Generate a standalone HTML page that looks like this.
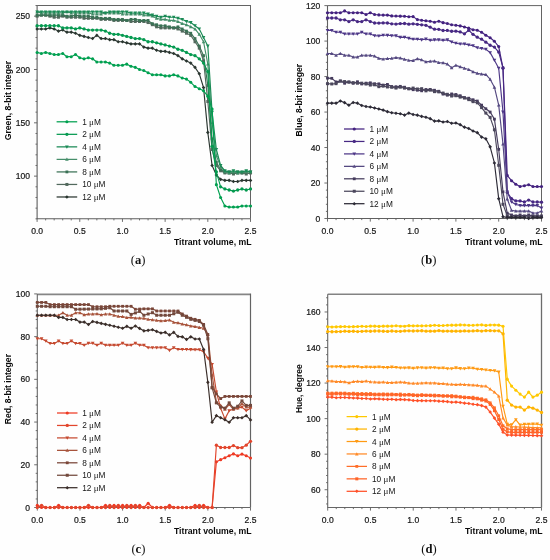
<!DOCTYPE html>
<html lang="en"><head><meta charset="utf-8"><title>Titration curves: Green, Blue, Red, Hue vs titrant volume</title>
<style>
html,body{margin:0;padding:0;background:#fefefe;}
body{width:550px;height:560px;overflow:hidden;}
svg{display:block;}
</style></head><body>
<svg width="550" height="560" viewBox="0 0 550 560">
<rect width="550" height="560" fill="#fefefe"/>
<g>
<path d="M37.1 5.5H250.5" fill="none" stroke="#636363" stroke-width="1.0"/>
<path d="M250.5 5.00V218.8" fill="none" stroke="#636363" stroke-width="1.0"/>
<path d="M37.1 5.5V218.8H250.5" fill="none" stroke="#5f5f5f" stroke-width="1.1"/>
<path d="M37.10 218.8v3.1M45.64 218.8v1.6M54.17 218.8v1.6M62.71 218.8v1.6M71.24 218.8v1.6M79.78 218.8v3.1M88.32 218.8v1.6M96.85 218.8v1.6M105.39 218.8v1.6M113.92 218.8v1.6M122.46 218.8v3.1M131.00 218.8v1.6M139.53 218.8v1.6M148.07 218.8v1.6M156.60 218.8v1.6M165.14 218.8v3.1M173.68 218.8v1.6M182.21 218.8v1.6M190.75 218.8v1.6M199.28 218.8v1.6M207.82 218.8v3.1M216.36 218.8v1.6M224.89 218.8v1.6M233.43 218.8v1.6M241.96 218.8v1.6M250.50 218.8v3.1M37.1 218.80h-1.6M37.1 208.14h-1.6M37.1 197.47h-1.6M37.1 186.81h-1.6M37.1 176.14h-3.1M37.1 165.48h-1.6M37.1 154.81h-1.6M37.1 144.15h-1.6M37.1 133.48h-1.6M37.1 122.82h-3.1M37.1 112.15h-1.6M37.1 101.49h-1.6M37.1 90.82h-1.6M37.1 80.16h-1.6M37.1 69.49h-3.1M37.1 58.83h-1.6M37.1 48.16h-1.6M37.1 37.50h-1.6M37.1 26.83h-1.6M37.1 16.17h-3.1M37.1 5.50h-1.6" fill="none" stroke="#5f5f5f" stroke-width="0.9"/>
<g font-family="Liberation Sans, Arial, sans-serif" font-size="8.55" fill="#151515" stroke="#151515" stroke-width="0.2">
<text x="37.10" y="234.40" text-anchor="middle">0.0</text>
<text x="79.78" y="234.40" text-anchor="middle">0.5</text>
<text x="122.46" y="234.40" text-anchor="middle">1.0</text>
<text x="165.14" y="234.40" text-anchor="middle">1.5</text>
<text x="207.82" y="234.40" text-anchor="middle">2.0</text>
<text x="250.50" y="234.40" text-anchor="middle">2.5</text>
<text x="29.90" y="179.24" text-anchor="end">100</text>
<text x="29.90" y="125.92" text-anchor="end">150</text>
<text x="29.90" y="72.59" text-anchor="end">200</text>
<text x="29.90" y="19.27" text-anchor="end">250</text>
</g>
<text x="251.50" y="245.00" text-anchor="end" font-family="Liberation Sans, Arial, sans-serif" font-weight="bold" font-size="8.7" fill="#0a0a0a">Titrant volume, mL</text>
<text transform="translate(11.4 100.6) rotate(-90)" text-anchor="middle" font-family="Liberation Sans, Arial, sans-serif" font-weight="bold" font-size="8.68" fill="#0a0a0a">Green, 8-bit integer</text>
<path d="M37.10 28.96L41.37 28.96L45.64 28.96L49.90 27.90L54.17 28.96L58.44 31.10L62.71 30.03L66.98 32.16L71.24 32.16L75.51 33.23L79.78 35.36L84.05 36.43L88.32 37.50L92.58 38.56L96.85 35.36L101.12 38.56L105.39 38.56L109.66 39.63L113.92 39.63L118.19 41.76L122.46 41.76L126.73 42.83L131.00 43.89L135.26 43.89L139.53 43.89L143.80 47.09L148.07 48.16L152.34 48.16L156.60 50.29L160.87 51.36L165.14 51.36L169.41 52.43L173.68 53.49L177.94 55.63L182.21 58.83L186.48 60.96L190.75 63.09L195.02 67.36L199.28 73.76L203.55 87.62L207.82 132.41L212.09 165.48L216.36 175.07L220.62 179.34L224.89 180.41L229.16 180.41L233.43 181.47L237.70 181.47L241.96 180.41L246.23 180.41L250.50 180.41" fill="none" stroke="#2a3630" stroke-width="1.15" stroke-linejoin="round"/>
<g><path d="M35.29 28.96L37.10 27.15L38.91 28.96L37.10 30.78Z" fill="#2a3630"/><path d="M39.56 28.96L41.37 27.15L43.18 28.96L41.37 30.78Z" fill="#2a3630"/><path d="M43.82 28.96L45.64 27.15L47.45 28.96L45.64 30.78Z" fill="#2a3630"/><path d="M48.09 27.90L49.90 26.08L51.72 27.90L49.90 29.71Z" fill="#2a3630"/><path d="M52.36 28.96L54.17 27.15L55.98 28.96L54.17 30.78Z" fill="#2a3630"/><path d="M56.63 31.10L58.44 29.28L60.25 31.10L58.44 32.91Z" fill="#2a3630"/><path d="M60.90 30.03L62.71 28.22L64.52 30.03L62.71 31.84Z" fill="#2a3630"/><path d="M65.16 32.16L66.98 30.35L68.79 32.16L66.98 33.98Z" fill="#2a3630"/><path d="M69.43 32.16L71.24 30.35L73.06 32.16L71.24 33.98Z" fill="#2a3630"/><path d="M73.70 33.23L75.51 31.42L77.32 33.23L75.51 35.04Z" fill="#2a3630"/><path d="M77.97 35.36L79.78 33.55L81.59 35.36L79.78 37.17Z" fill="#2a3630"/><path d="M82.24 36.43L84.05 34.62L85.86 36.43L84.05 38.24Z" fill="#2a3630"/><path d="M86.50 37.50L88.32 35.68L90.13 37.50L88.32 39.31Z" fill="#2a3630"/><path d="M90.77 38.56L92.58 36.75L94.40 38.56L92.58 40.37Z" fill="#2a3630"/><path d="M95.04 35.36L96.85 33.55L98.66 35.36L96.85 37.17Z" fill="#2a3630"/><path d="M99.31 38.56L101.12 36.75L102.93 38.56L101.12 40.37Z" fill="#2a3630"/><path d="M103.58 38.56L105.39 36.75L107.20 38.56L105.39 40.37Z" fill="#2a3630"/><path d="M107.84 39.63L109.66 37.82L111.47 39.63L109.66 41.44Z" fill="#2a3630"/><path d="M112.11 39.63L113.92 37.82L115.74 39.63L113.92 41.44Z" fill="#2a3630"/><path d="M116.38 41.76L118.19 39.95L120.00 41.76L118.19 43.57Z" fill="#2a3630"/><path d="M120.65 41.76L122.46 39.95L124.27 41.76L122.46 43.57Z" fill="#2a3630"/><path d="M124.92 42.83L126.73 41.02L128.54 42.83L126.73 44.64Z" fill="#2a3630"/><path d="M129.18 43.89L131.00 42.08L132.81 43.89L131.00 45.71Z" fill="#2a3630"/><path d="M133.45 43.89L135.26 42.08L137.08 43.89L135.26 45.71Z" fill="#2a3630"/><path d="M137.72 43.89L139.53 42.08L141.34 43.89L139.53 45.71Z" fill="#2a3630"/><path d="M141.99 47.09L143.80 45.28L145.61 47.09L143.80 48.91Z" fill="#2a3630"/><path d="M146.26 48.16L148.07 46.35L149.88 48.16L148.07 49.97Z" fill="#2a3630"/><path d="M150.52 48.16L152.34 46.35L154.15 48.16L152.34 49.97Z" fill="#2a3630"/><path d="M154.79 50.29L156.60 48.48L158.42 50.29L156.60 52.11Z" fill="#2a3630"/><path d="M159.06 51.36L160.87 49.55L162.68 51.36L160.87 53.17Z" fill="#2a3630"/><path d="M163.33 51.36L165.14 49.55L166.95 51.36L165.14 53.17Z" fill="#2a3630"/><path d="M167.60 52.43L169.41 50.61L171.22 52.43L169.41 54.24Z" fill="#2a3630"/><path d="M171.86 53.49L173.68 51.68L175.49 53.49L173.68 55.31Z" fill="#2a3630"/><path d="M176.13 55.63L177.94 53.81L179.76 55.63L177.94 57.44Z" fill="#2a3630"/><path d="M180.40 58.83L182.21 57.01L184.02 58.83L182.21 60.64Z" fill="#2a3630"/><path d="M184.67 60.96L186.48 59.15L188.29 60.96L186.48 62.77Z" fill="#2a3630"/><path d="M188.94 63.09L190.75 61.28L192.56 63.09L190.75 64.90Z" fill="#2a3630"/><path d="M193.20 67.36L195.02 65.54L196.83 67.36L195.02 69.17Z" fill="#2a3630"/><path d="M197.47 73.76L199.28 71.94L201.10 73.76L199.28 75.57Z" fill="#2a3630"/><path d="M201.74 87.62L203.55 85.81L205.36 87.62L203.55 89.43Z" fill="#2a3630"/><path d="M206.01 132.41L207.82 130.60L209.63 132.41L207.82 134.23Z" fill="#2a3630"/><path d="M210.28 165.48L212.09 163.66L213.90 165.48L212.09 167.29Z" fill="#2a3630"/><path d="M214.54 175.07L216.36 173.26L218.17 175.07L216.36 176.89Z" fill="#2a3630"/><path d="M218.81 179.34L220.62 177.53L222.44 179.34L220.62 181.15Z" fill="#2a3630"/><path d="M223.08 180.41L224.89 178.59L226.70 180.41L224.89 182.22Z" fill="#2a3630"/><path d="M227.35 180.41L229.16 178.59L230.97 180.41L229.16 182.22Z" fill="#2a3630"/><path d="M231.62 181.47L233.43 179.66L235.24 181.47L233.43 183.29Z" fill="#2a3630"/><path d="M235.88 181.47L237.70 179.66L239.51 181.47L237.70 183.29Z" fill="#2a3630"/><path d="M240.15 180.41L241.96 178.59L243.78 180.41L241.96 182.22Z" fill="#2a3630"/><path d="M244.42 180.41L246.23 178.59L248.04 180.41L246.23 182.22Z" fill="#2a3630"/><path d="M248.69 180.41L250.50 178.59L252.31 180.41L250.50 182.22Z" fill="#2a3630"/></g>
<path d="M37.10 16.17L41.37 15.10L45.64 15.10L49.90 16.17L54.17 17.23L58.44 17.23L62.71 16.17L66.98 17.23L71.24 17.23L75.51 17.23L79.78 17.23L84.05 18.30L88.32 18.30L92.58 18.30L96.85 18.30L101.12 19.36L105.39 19.36L109.66 19.36L113.92 20.43L118.19 20.43L122.46 20.43L126.73 20.43L131.00 21.50L135.26 21.50L139.53 21.50L143.80 21.50L148.07 22.56L152.34 24.70L156.60 26.83L160.87 27.90L165.14 27.90L169.41 27.90L173.68 27.90L177.94 28.96L182.21 31.10L186.48 33.23L190.75 35.36L195.02 41.76L199.28 48.16L203.55 60.96L207.82 101.49L212.09 149.48L216.36 165.48L220.62 170.81L224.89 172.94L229.16 172.94L233.43 174.01L237.70 172.94L241.96 172.94L246.23 174.01L250.50 172.94" fill="none" stroke="#52695d" stroke-width="1.15" stroke-linejoin="round"/>
<g><rect x="35.60" y="14.67" width="3.00" height="3.00" fill="#52695d"/><rect x="39.87" y="13.60" width="3.00" height="3.00" fill="#52695d"/><rect x="44.14" y="13.60" width="3.00" height="3.00" fill="#52695d"/><rect x="48.40" y="14.67" width="3.00" height="3.00" fill="#52695d"/><rect x="52.67" y="15.73" width="3.00" height="3.00" fill="#52695d"/><rect x="56.94" y="15.73" width="3.00" height="3.00" fill="#52695d"/><rect x="61.21" y="14.67" width="3.00" height="3.00" fill="#52695d"/><rect x="65.48" y="15.73" width="3.00" height="3.00" fill="#52695d"/><rect x="69.74" y="15.73" width="3.00" height="3.00" fill="#52695d"/><rect x="74.01" y="15.73" width="3.00" height="3.00" fill="#52695d"/><rect x="78.28" y="15.73" width="3.00" height="3.00" fill="#52695d"/><rect x="82.55" y="16.80" width="3.00" height="3.00" fill="#52695d"/><rect x="86.82" y="16.80" width="3.00" height="3.00" fill="#52695d"/><rect x="91.08" y="16.80" width="3.00" height="3.00" fill="#52695d"/><rect x="95.35" y="16.80" width="3.00" height="3.00" fill="#52695d"/><rect x="99.62" y="17.86" width="3.00" height="3.00" fill="#52695d"/><rect x="103.89" y="17.86" width="3.00" height="3.00" fill="#52695d"/><rect x="108.16" y="17.86" width="3.00" height="3.00" fill="#52695d"/><rect x="112.42" y="18.93" width="3.00" height="3.00" fill="#52695d"/><rect x="116.69" y="18.93" width="3.00" height="3.00" fill="#52695d"/><rect x="120.96" y="18.93" width="3.00" height="3.00" fill="#52695d"/><rect x="125.23" y="18.93" width="3.00" height="3.00" fill="#52695d"/><rect x="129.50" y="20.00" width="3.00" height="3.00" fill="#52695d"/><rect x="133.76" y="20.00" width="3.00" height="3.00" fill="#52695d"/><rect x="138.03" y="20.00" width="3.00" height="3.00" fill="#52695d"/><rect x="142.30" y="20.00" width="3.00" height="3.00" fill="#52695d"/><rect x="146.57" y="21.06" width="3.00" height="3.00" fill="#52695d"/><rect x="150.84" y="23.20" width="3.00" height="3.00" fill="#52695d"/><rect x="155.10" y="25.33" width="3.00" height="3.00" fill="#52695d"/><rect x="159.37" y="26.40" width="3.00" height="3.00" fill="#52695d"/><rect x="163.64" y="26.40" width="3.00" height="3.00" fill="#52695d"/><rect x="167.91" y="26.40" width="3.00" height="3.00" fill="#52695d"/><rect x="172.18" y="26.40" width="3.00" height="3.00" fill="#52695d"/><rect x="176.44" y="27.46" width="3.00" height="3.00" fill="#52695d"/><rect x="180.71" y="29.60" width="3.00" height="3.00" fill="#52695d"/><rect x="184.98" y="31.73" width="3.00" height="3.00" fill="#52695d"/><rect x="189.25" y="33.86" width="3.00" height="3.00" fill="#52695d"/><rect x="193.52" y="40.26" width="3.00" height="3.00" fill="#52695d"/><rect x="197.78" y="46.66" width="3.00" height="3.00" fill="#52695d"/><rect x="202.05" y="59.46" width="3.00" height="3.00" fill="#52695d"/><rect x="206.32" y="99.99" width="3.00" height="3.00" fill="#52695d"/><rect x="210.59" y="147.98" width="3.00" height="3.00" fill="#52695d"/><rect x="214.86" y="163.98" width="3.00" height="3.00" fill="#52695d"/><rect x="219.12" y="169.31" width="3.00" height="3.00" fill="#52695d"/><rect x="223.39" y="171.44" width="3.00" height="3.00" fill="#52695d"/><rect x="227.66" y="171.44" width="3.00" height="3.00" fill="#52695d"/><rect x="231.93" y="172.51" width="3.00" height="3.00" fill="#52695d"/><rect x="236.20" y="171.44" width="3.00" height="3.00" fill="#52695d"/><rect x="240.46" y="171.44" width="3.00" height="3.00" fill="#52695d"/><rect x="244.73" y="172.51" width="3.00" height="3.00" fill="#52695d"/><rect x="249.00" y="171.44" width="3.00" height="3.00" fill="#52695d"/></g>
<path d="M37.10 15.10L41.37 15.10L45.64 15.10L49.90 15.10L54.17 15.10L58.44 15.10L62.71 15.10L66.98 16.17L71.24 16.17L75.51 15.10L79.78 16.17L84.05 16.17L88.32 16.17L92.58 17.23L96.85 17.23L101.12 18.30L105.39 18.30L109.66 18.30L113.92 19.36L118.19 19.36L122.46 19.36L126.73 20.43L131.00 19.36L135.26 19.36L139.53 20.43L143.80 20.43L148.07 20.43L152.34 23.63L156.60 24.70L160.87 25.76L165.14 25.76L169.41 26.83L173.68 27.90L177.94 26.83L182.21 28.96L186.48 31.10L190.75 33.23L195.02 38.56L199.28 46.03L203.55 55.63L207.82 85.49L212.09 138.81L216.36 162.28L220.62 169.74L224.89 171.87L229.16 171.87L233.43 172.94L237.70 171.87L241.96 172.94L246.23 171.87L250.50 171.87" fill="none" stroke="#3a7155" stroke-width="1.15" stroke-linejoin="round"/>
<g><rect x="35.70" y="13.70" width="2.80" height="2.80" fill="#3a7155"/><rect x="39.97" y="13.70" width="2.80" height="2.80" fill="#3a7155"/><rect x="44.24" y="13.70" width="2.80" height="2.80" fill="#3a7155"/><rect x="48.50" y="13.70" width="2.80" height="2.80" fill="#3a7155"/><rect x="52.77" y="13.70" width="2.80" height="2.80" fill="#3a7155"/><rect x="57.04" y="13.70" width="2.80" height="2.80" fill="#3a7155"/><rect x="61.31" y="13.70" width="2.80" height="2.80" fill="#3a7155"/><rect x="65.58" y="14.77" width="2.80" height="2.80" fill="#3a7155"/><rect x="69.84" y="14.77" width="2.80" height="2.80" fill="#3a7155"/><rect x="74.11" y="13.70" width="2.80" height="2.80" fill="#3a7155"/><rect x="78.38" y="14.77" width="2.80" height="2.80" fill="#3a7155"/><rect x="82.65" y="14.77" width="2.80" height="2.80" fill="#3a7155"/><rect x="86.92" y="14.77" width="2.80" height="2.80" fill="#3a7155"/><rect x="91.18" y="15.83" width="2.80" height="2.80" fill="#3a7155"/><rect x="95.45" y="15.83" width="2.80" height="2.80" fill="#3a7155"/><rect x="99.72" y="16.90" width="2.80" height="2.80" fill="#3a7155"/><rect x="103.99" y="16.90" width="2.80" height="2.80" fill="#3a7155"/><rect x="108.26" y="16.90" width="2.80" height="2.80" fill="#3a7155"/><rect x="112.52" y="17.96" width="2.80" height="2.80" fill="#3a7155"/><rect x="116.79" y="17.96" width="2.80" height="2.80" fill="#3a7155"/><rect x="121.06" y="17.96" width="2.80" height="2.80" fill="#3a7155"/><rect x="125.33" y="19.03" width="2.80" height="2.80" fill="#3a7155"/><rect x="129.60" y="17.96" width="2.80" height="2.80" fill="#3a7155"/><rect x="133.86" y="17.96" width="2.80" height="2.80" fill="#3a7155"/><rect x="138.13" y="19.03" width="2.80" height="2.80" fill="#3a7155"/><rect x="142.40" y="19.03" width="2.80" height="2.80" fill="#3a7155"/><rect x="146.67" y="19.03" width="2.80" height="2.80" fill="#3a7155"/><rect x="150.94" y="22.23" width="2.80" height="2.80" fill="#3a7155"/><rect x="155.20" y="23.30" width="2.80" height="2.80" fill="#3a7155"/><rect x="159.47" y="24.36" width="2.80" height="2.80" fill="#3a7155"/><rect x="163.74" y="24.36" width="2.80" height="2.80" fill="#3a7155"/><rect x="168.01" y="25.43" width="2.80" height="2.80" fill="#3a7155"/><rect x="172.28" y="26.50" width="2.80" height="2.80" fill="#3a7155"/><rect x="176.54" y="25.43" width="2.80" height="2.80" fill="#3a7155"/><rect x="180.81" y="27.56" width="2.80" height="2.80" fill="#3a7155"/><rect x="185.08" y="29.70" width="2.80" height="2.80" fill="#3a7155"/><rect x="189.35" y="31.83" width="2.80" height="2.80" fill="#3a7155"/><rect x="193.62" y="37.16" width="2.80" height="2.80" fill="#3a7155"/><rect x="197.88" y="44.63" width="2.80" height="2.80" fill="#3a7155"/><rect x="202.15" y="54.23" width="2.80" height="2.80" fill="#3a7155"/><rect x="206.42" y="84.09" width="2.80" height="2.80" fill="#3a7155"/><rect x="210.69" y="137.41" width="2.80" height="2.80" fill="#3a7155"/><rect x="214.96" y="160.88" width="2.80" height="2.80" fill="#3a7155"/><rect x="219.22" y="168.34" width="2.80" height="2.80" fill="#3a7155"/><rect x="223.49" y="170.47" width="2.80" height="2.80" fill="#3a7155"/><rect x="227.76" y="170.47" width="2.80" height="2.80" fill="#3a7155"/><rect x="232.03" y="171.54" width="2.80" height="2.80" fill="#3a7155"/><rect x="236.30" y="170.47" width="2.80" height="2.80" fill="#3a7155"/><rect x="240.56" y="171.54" width="2.80" height="2.80" fill="#3a7155"/><rect x="244.83" y="170.47" width="2.80" height="2.80" fill="#3a7155"/><rect x="249.10" y="170.47" width="2.80" height="2.80" fill="#3a7155"/></g>
<path d="M37.10 11.90L41.37 12.97L45.64 12.97L49.90 12.97L54.17 12.97L58.44 12.97L62.71 12.97L66.98 11.90L71.24 12.97L75.51 12.97L79.78 12.97L84.05 12.97L88.32 12.97L92.58 14.03L96.85 14.03L101.12 14.03L105.39 12.97L109.66 12.97L113.92 12.97L118.19 12.97L122.46 14.03L126.73 14.03L131.00 14.03L135.26 14.03L139.53 14.03L143.80 15.10L148.07 15.10L152.34 16.17L156.60 18.30L160.87 19.36L165.14 19.36L169.41 20.43L173.68 20.43L177.94 21.50L182.21 23.63L186.48 24.70L190.75 26.83L195.02 28.96L199.28 34.30L203.55 41.76L207.82 64.16L212.09 122.82L216.36 155.88L220.62 166.54L224.89 171.87L229.16 172.94L233.43 171.87L237.70 172.94L241.96 171.87L246.23 171.87L250.50 171.87" fill="none" stroke="#458e6a" stroke-width="1.15" stroke-linejoin="round"/>
<g><path d="M35.30 13.34L38.90 13.34L37.10 10.10Z" fill="#458e6a"/><path d="M39.57 14.41L43.17 14.41L41.37 11.17Z" fill="#458e6a"/><path d="M43.84 14.41L47.44 14.41L45.64 11.17Z" fill="#458e6a"/><path d="M48.10 14.41L51.70 14.41L49.90 11.17Z" fill="#458e6a"/><path d="M52.37 14.41L55.97 14.41L54.17 11.17Z" fill="#458e6a"/><path d="M56.64 14.41L60.24 14.41L58.44 11.17Z" fill="#458e6a"/><path d="M60.91 14.41L64.51 14.41L62.71 11.17Z" fill="#458e6a"/><path d="M65.18 13.34L68.78 13.34L66.98 10.10Z" fill="#458e6a"/><path d="M69.44 14.41L73.04 14.41L71.24 11.17Z" fill="#458e6a"/><path d="M73.71 14.41L77.31 14.41L75.51 11.17Z" fill="#458e6a"/><path d="M77.98 14.41L81.58 14.41L79.78 11.17Z" fill="#458e6a"/><path d="M82.25 14.41L85.85 14.41L84.05 11.17Z" fill="#458e6a"/><path d="M86.52 14.41L90.12 14.41L88.32 11.17Z" fill="#458e6a"/><path d="M90.78 15.47L94.38 15.47L92.58 12.23Z" fill="#458e6a"/><path d="M95.05 15.47L98.65 15.47L96.85 12.23Z" fill="#458e6a"/><path d="M99.32 15.47L102.92 15.47L101.12 12.23Z" fill="#458e6a"/><path d="M103.59 14.41L107.19 14.41L105.39 11.17Z" fill="#458e6a"/><path d="M107.86 14.41L111.46 14.41L109.66 11.17Z" fill="#458e6a"/><path d="M112.12 14.41L115.72 14.41L113.92 11.17Z" fill="#458e6a"/><path d="M116.39 14.41L119.99 14.41L118.19 11.17Z" fill="#458e6a"/><path d="M120.66 15.47L124.26 15.47L122.46 12.23Z" fill="#458e6a"/><path d="M124.93 15.47L128.53 15.47L126.73 12.23Z" fill="#458e6a"/><path d="M129.20 15.47L132.80 15.47L131.00 12.23Z" fill="#458e6a"/><path d="M133.46 15.47L137.06 15.47L135.26 12.23Z" fill="#458e6a"/><path d="M137.73 15.47L141.33 15.47L139.53 12.23Z" fill="#458e6a"/><path d="M142.00 16.54L145.60 16.54L143.80 13.30Z" fill="#458e6a"/><path d="M146.27 16.54L149.87 16.54L148.07 13.30Z" fill="#458e6a"/><path d="M150.54 17.61L154.14 17.61L152.34 14.37Z" fill="#458e6a"/><path d="M154.80 19.74L158.40 19.74L156.60 16.50Z" fill="#458e6a"/><path d="M159.07 20.80L162.67 20.80L160.87 17.56Z" fill="#458e6a"/><path d="M163.34 20.80L166.94 20.80L165.14 17.56Z" fill="#458e6a"/><path d="M167.61 21.87L171.21 21.87L169.41 18.63Z" fill="#458e6a"/><path d="M171.88 21.87L175.48 21.87L173.68 18.63Z" fill="#458e6a"/><path d="M176.14 22.94L179.74 22.94L177.94 19.70Z" fill="#458e6a"/><path d="M180.41 25.07L184.01 25.07L182.21 21.83Z" fill="#458e6a"/><path d="M184.68 26.14L188.28 26.14L186.48 22.90Z" fill="#458e6a"/><path d="M188.95 28.27L192.55 28.27L190.75 25.03Z" fill="#458e6a"/><path d="M193.22 30.40L196.82 30.40L195.02 27.16Z" fill="#458e6a"/><path d="M197.48 35.74L201.08 35.74L199.28 32.50Z" fill="#458e6a"/><path d="M201.75 43.20L205.35 43.20L203.55 39.96Z" fill="#458e6a"/><path d="M206.02 65.60L209.62 65.60L207.82 62.36Z" fill="#458e6a"/><path d="M210.29 124.26L213.89 124.26L212.09 121.02Z" fill="#458e6a"/><path d="M214.56 157.32L218.16 157.32L216.36 154.08Z" fill="#458e6a"/><path d="M218.82 167.98L222.42 167.98L220.62 164.74Z" fill="#458e6a"/><path d="M223.09 173.31L226.69 173.31L224.89 170.07Z" fill="#458e6a"/><path d="M227.36 174.38L230.96 174.38L229.16 171.14Z" fill="#458e6a"/><path d="M231.63 173.31L235.23 173.31L233.43 170.07Z" fill="#458e6a"/><path d="M235.90 174.38L239.50 174.38L237.70 171.14Z" fill="#458e6a"/><path d="M240.16 173.31L243.76 173.31L241.96 170.07Z" fill="#458e6a"/><path d="M244.43 173.31L248.03 173.31L246.23 170.07Z" fill="#458e6a"/><path d="M248.70 173.31L252.30 173.31L250.50 170.07Z" fill="#458e6a"/></g>
<path d="M37.10 11.90L41.37 11.90L45.64 11.90L49.90 11.90L54.17 11.90L58.44 11.90L62.71 11.90L66.98 11.90L71.24 11.90L75.51 11.90L79.78 11.90L84.05 11.90L88.32 11.90L92.58 11.90L96.85 11.90L101.12 11.90L105.39 12.97L109.66 11.90L113.92 11.90L118.19 11.90L122.46 11.90L126.73 11.90L131.00 12.97L135.26 12.97L139.53 12.97L143.80 12.97L148.07 14.03L152.34 15.10L156.60 16.17L160.87 17.23L165.14 16.17L169.41 17.23L173.68 17.23L177.94 18.30L182.21 19.36L186.48 21.50L190.75 22.56L195.02 25.76L199.28 28.96L203.55 37.50L207.82 46.03L212.09 112.15L216.36 149.48L220.62 165.48L224.89 170.81L229.16 171.87L233.43 170.81L237.70 171.87L241.96 171.87L246.23 170.81L250.50 171.87" fill="none" stroke="#1a8a55" stroke-width="1.15" stroke-linejoin="round"/>
<g><path d="M35.25 10.42L38.95 10.42L37.10 13.75Z" fill="#1a8a55"/><path d="M39.52 10.42L43.22 10.42L41.37 13.75Z" fill="#1a8a55"/><path d="M43.79 10.42L47.49 10.42L45.64 13.75Z" fill="#1a8a55"/><path d="M48.05 10.42L51.75 10.42L49.90 13.75Z" fill="#1a8a55"/><path d="M52.32 10.42L56.02 10.42L54.17 13.75Z" fill="#1a8a55"/><path d="M56.59 10.42L60.29 10.42L58.44 13.75Z" fill="#1a8a55"/><path d="M60.86 10.42L64.56 10.42L62.71 13.75Z" fill="#1a8a55"/><path d="M65.13 10.42L68.83 10.42L66.98 13.75Z" fill="#1a8a55"/><path d="M69.39 10.42L73.09 10.42L71.24 13.75Z" fill="#1a8a55"/><path d="M73.66 10.42L77.36 10.42L75.51 13.75Z" fill="#1a8a55"/><path d="M77.93 10.42L81.63 10.42L79.78 13.75Z" fill="#1a8a55"/><path d="M82.20 10.42L85.90 10.42L84.05 13.75Z" fill="#1a8a55"/><path d="M86.47 10.42L90.17 10.42L88.32 13.75Z" fill="#1a8a55"/><path d="M90.73 10.42L94.43 10.42L92.58 13.75Z" fill="#1a8a55"/><path d="M95.00 10.42L98.70 10.42L96.85 13.75Z" fill="#1a8a55"/><path d="M99.27 10.42L102.97 10.42L101.12 13.75Z" fill="#1a8a55"/><path d="M103.54 11.49L107.24 11.49L105.39 14.82Z" fill="#1a8a55"/><path d="M107.81 10.42L111.51 10.42L109.66 13.75Z" fill="#1a8a55"/><path d="M112.07 10.42L115.77 10.42L113.92 13.75Z" fill="#1a8a55"/><path d="M116.34 10.42L120.04 10.42L118.19 13.75Z" fill="#1a8a55"/><path d="M120.61 10.42L124.31 10.42L122.46 13.75Z" fill="#1a8a55"/><path d="M124.88 10.42L128.58 10.42L126.73 13.75Z" fill="#1a8a55"/><path d="M129.15 11.49L132.85 11.49L131.00 14.82Z" fill="#1a8a55"/><path d="M133.41 11.49L137.11 11.49L135.26 14.82Z" fill="#1a8a55"/><path d="M137.68 11.49L141.38 11.49L139.53 14.82Z" fill="#1a8a55"/><path d="M141.95 11.49L145.65 11.49L143.80 14.82Z" fill="#1a8a55"/><path d="M146.22 12.55L149.92 12.55L148.07 15.88Z" fill="#1a8a55"/><path d="M150.49 13.62L154.19 13.62L152.34 16.95Z" fill="#1a8a55"/><path d="M154.75 14.69L158.45 14.69L156.60 18.02Z" fill="#1a8a55"/><path d="M159.02 15.75L162.72 15.75L160.87 19.08Z" fill="#1a8a55"/><path d="M163.29 14.69L166.99 14.69L165.14 18.02Z" fill="#1a8a55"/><path d="M167.56 15.75L171.26 15.75L169.41 19.08Z" fill="#1a8a55"/><path d="M171.83 15.75L175.53 15.75L173.68 19.08Z" fill="#1a8a55"/><path d="M176.09 16.82L179.79 16.82L177.94 20.15Z" fill="#1a8a55"/><path d="M180.36 17.88L184.06 17.88L182.21 21.21Z" fill="#1a8a55"/><path d="M184.63 20.02L188.33 20.02L186.48 23.35Z" fill="#1a8a55"/><path d="M188.90 21.08L192.60 21.08L190.75 24.41Z" fill="#1a8a55"/><path d="M193.17 24.28L196.87 24.28L195.02 27.61Z" fill="#1a8a55"/><path d="M197.43 27.48L201.13 27.48L199.28 30.81Z" fill="#1a8a55"/><path d="M201.70 36.02L205.40 36.02L203.55 39.35Z" fill="#1a8a55"/><path d="M205.97 44.55L209.67 44.55L207.82 47.88Z" fill="#1a8a55"/><path d="M210.24 110.67L213.94 110.67L212.09 114.00Z" fill="#1a8a55"/><path d="M214.51 148.00L218.21 148.00L216.36 151.33Z" fill="#1a8a55"/><path d="M218.77 164.00L222.47 164.00L220.62 167.33Z" fill="#1a8a55"/><path d="M223.04 169.33L226.74 169.33L224.89 172.66Z" fill="#1a8a55"/><path d="M227.31 170.39L231.01 170.39L229.16 173.72Z" fill="#1a8a55"/><path d="M231.58 169.33L235.28 169.33L233.43 172.66Z" fill="#1a8a55"/><path d="M235.85 170.39L239.55 170.39L237.70 173.72Z" fill="#1a8a55"/><path d="M240.11 170.39L243.81 170.39L241.96 173.72Z" fill="#1a8a55"/><path d="M244.38 169.33L248.08 169.33L246.23 172.66Z" fill="#1a8a55"/><path d="M248.65 170.39L252.35 170.39L250.50 173.72Z" fill="#1a8a55"/></g>
<path d="M37.10 25.76L41.37 25.76L45.64 25.76L49.90 25.76L54.17 25.76L58.44 25.76L62.71 27.90L66.98 27.90L71.24 27.90L75.51 28.96L79.78 27.90L84.05 28.96L88.32 30.03L92.58 30.03L96.85 30.03L101.12 30.03L105.39 31.10L109.66 33.23L113.92 34.30L118.19 34.30L122.46 35.36L126.73 36.43L131.00 37.50L135.26 38.56L139.53 38.56L143.80 39.63L148.07 41.76L152.34 41.76L156.60 42.83L160.87 43.89L165.14 44.96L169.41 46.03L173.68 47.09L177.94 49.23L182.21 50.29L186.48 52.43L190.75 54.56L195.02 55.63L199.28 58.83L203.55 63.09L207.82 71.62L212.09 146.28L216.36 171.87L220.62 186.81L224.89 188.94L229.16 190.00L233.43 191.07L237.70 190.00L241.96 188.94L246.23 190.00L250.50 188.94" fill="none" stroke="#059a50" stroke-width="1.15" stroke-linejoin="round"/>
<g><circle cx="37.10" cy="25.76" r="1.65" fill="#059a50"/><circle cx="41.37" cy="25.76" r="1.65" fill="#059a50"/><circle cx="45.64" cy="25.76" r="1.65" fill="#059a50"/><circle cx="49.90" cy="25.76" r="1.65" fill="#059a50"/><circle cx="54.17" cy="25.76" r="1.65" fill="#059a50"/><circle cx="58.44" cy="25.76" r="1.65" fill="#059a50"/><circle cx="62.71" cy="27.90" r="1.65" fill="#059a50"/><circle cx="66.98" cy="27.90" r="1.65" fill="#059a50"/><circle cx="71.24" cy="27.90" r="1.65" fill="#059a50"/><circle cx="75.51" cy="28.96" r="1.65" fill="#059a50"/><circle cx="79.78" cy="27.90" r="1.65" fill="#059a50"/><circle cx="84.05" cy="28.96" r="1.65" fill="#059a50"/><circle cx="88.32" cy="30.03" r="1.65" fill="#059a50"/><circle cx="92.58" cy="30.03" r="1.65" fill="#059a50"/><circle cx="96.85" cy="30.03" r="1.65" fill="#059a50"/><circle cx="101.12" cy="30.03" r="1.65" fill="#059a50"/><circle cx="105.39" cy="31.10" r="1.65" fill="#059a50"/><circle cx="109.66" cy="33.23" r="1.65" fill="#059a50"/><circle cx="113.92" cy="34.30" r="1.65" fill="#059a50"/><circle cx="118.19" cy="34.30" r="1.65" fill="#059a50"/><circle cx="122.46" cy="35.36" r="1.65" fill="#059a50"/><circle cx="126.73" cy="36.43" r="1.65" fill="#059a50"/><circle cx="131.00" cy="37.50" r="1.65" fill="#059a50"/><circle cx="135.26" cy="38.56" r="1.65" fill="#059a50"/><circle cx="139.53" cy="38.56" r="1.65" fill="#059a50"/><circle cx="143.80" cy="39.63" r="1.65" fill="#059a50"/><circle cx="148.07" cy="41.76" r="1.65" fill="#059a50"/><circle cx="152.34" cy="41.76" r="1.65" fill="#059a50"/><circle cx="156.60" cy="42.83" r="1.65" fill="#059a50"/><circle cx="160.87" cy="43.89" r="1.65" fill="#059a50"/><circle cx="165.14" cy="44.96" r="1.65" fill="#059a50"/><circle cx="169.41" cy="46.03" r="1.65" fill="#059a50"/><circle cx="173.68" cy="47.09" r="1.65" fill="#059a50"/><circle cx="177.94" cy="49.23" r="1.65" fill="#059a50"/><circle cx="182.21" cy="50.29" r="1.65" fill="#059a50"/><circle cx="186.48" cy="52.43" r="1.65" fill="#059a50"/><circle cx="190.75" cy="54.56" r="1.65" fill="#059a50"/><circle cx="195.02" cy="55.63" r="1.65" fill="#059a50"/><circle cx="199.28" cy="58.83" r="1.65" fill="#059a50"/><circle cx="203.55" cy="63.09" r="1.65" fill="#059a50"/><circle cx="207.82" cy="71.62" r="1.65" fill="#059a50"/><circle cx="212.09" cy="146.28" r="1.65" fill="#059a50"/><circle cx="216.36" cy="171.87" r="1.65" fill="#059a50"/><circle cx="220.62" cy="186.81" r="1.65" fill="#059a50"/><circle cx="224.89" cy="188.94" r="1.65" fill="#059a50"/><circle cx="229.16" cy="190.00" r="1.65" fill="#059a50"/><circle cx="233.43" cy="191.07" r="1.65" fill="#059a50"/><circle cx="237.70" cy="190.00" r="1.65" fill="#059a50"/><circle cx="241.96" cy="188.94" r="1.65" fill="#059a50"/><circle cx="246.23" cy="190.00" r="1.65" fill="#059a50"/><circle cx="250.50" cy="188.94" r="1.65" fill="#059a50"/></g>
<path d="M37.10 52.43L41.37 53.49L45.64 52.43L49.90 53.49L54.17 54.56L58.44 54.56L62.71 53.49L66.98 56.69L71.24 56.69L75.51 54.56L79.78 57.76L84.05 58.83L88.32 57.76L92.58 58.83L96.85 62.02L101.12 62.02L105.39 62.02L109.66 63.09L113.92 65.22L118.19 65.22L122.46 65.22L126.73 64.16L131.00 66.29L135.26 67.36L139.53 69.49L143.80 70.56L148.07 72.69L152.34 74.82L156.60 74.82L160.87 74.82L165.14 75.89L169.41 75.89L173.68 74.82L177.94 75.89L182.21 78.02L186.48 79.09L190.75 82.29L195.02 86.55L199.28 88.69L203.55 90.82L207.82 96.15L212.09 108.95L216.36 184.67L220.62 197.47L224.89 206.00L229.16 207.07L233.43 207.07L237.70 207.07L241.96 206.00L246.23 206.00L250.50 206.00" fill="none" stroke="#00a050" stroke-width="1.15" stroke-linejoin="round"/>
<g><circle cx="37.10" cy="52.43" r="1.55" fill="#00a050"/><circle cx="41.37" cy="53.49" r="1.55" fill="#00a050"/><circle cx="45.64" cy="52.43" r="1.55" fill="#00a050"/><circle cx="49.90" cy="53.49" r="1.55" fill="#00a050"/><circle cx="54.17" cy="54.56" r="1.55" fill="#00a050"/><circle cx="58.44" cy="54.56" r="1.55" fill="#00a050"/><circle cx="62.71" cy="53.49" r="1.55" fill="#00a050"/><circle cx="66.98" cy="56.69" r="1.55" fill="#00a050"/><circle cx="71.24" cy="56.69" r="1.55" fill="#00a050"/><circle cx="75.51" cy="54.56" r="1.55" fill="#00a050"/><circle cx="79.78" cy="57.76" r="1.55" fill="#00a050"/><circle cx="84.05" cy="58.83" r="1.55" fill="#00a050"/><circle cx="88.32" cy="57.76" r="1.55" fill="#00a050"/><circle cx="92.58" cy="58.83" r="1.55" fill="#00a050"/><circle cx="96.85" cy="62.02" r="1.55" fill="#00a050"/><circle cx="101.12" cy="62.02" r="1.55" fill="#00a050"/><circle cx="105.39" cy="62.02" r="1.55" fill="#00a050"/><circle cx="109.66" cy="63.09" r="1.55" fill="#00a050"/><circle cx="113.92" cy="65.22" r="1.55" fill="#00a050"/><circle cx="118.19" cy="65.22" r="1.55" fill="#00a050"/><circle cx="122.46" cy="65.22" r="1.55" fill="#00a050"/><circle cx="126.73" cy="64.16" r="1.55" fill="#00a050"/><circle cx="131.00" cy="66.29" r="1.55" fill="#00a050"/><circle cx="135.26" cy="67.36" r="1.55" fill="#00a050"/><circle cx="139.53" cy="69.49" r="1.55" fill="#00a050"/><circle cx="143.80" cy="70.56" r="1.55" fill="#00a050"/><circle cx="148.07" cy="72.69" r="1.55" fill="#00a050"/><circle cx="152.34" cy="74.82" r="1.55" fill="#00a050"/><circle cx="156.60" cy="74.82" r="1.55" fill="#00a050"/><circle cx="160.87" cy="74.82" r="1.55" fill="#00a050"/><circle cx="165.14" cy="75.89" r="1.55" fill="#00a050"/><circle cx="169.41" cy="75.89" r="1.55" fill="#00a050"/><circle cx="173.68" cy="74.82" r="1.55" fill="#00a050"/><circle cx="177.94" cy="75.89" r="1.55" fill="#00a050"/><circle cx="182.21" cy="78.02" r="1.55" fill="#00a050"/><circle cx="186.48" cy="79.09" r="1.55" fill="#00a050"/><circle cx="190.75" cy="82.29" r="1.55" fill="#00a050"/><circle cx="195.02" cy="86.55" r="1.55" fill="#00a050"/><circle cx="199.28" cy="88.69" r="1.55" fill="#00a050"/><circle cx="203.55" cy="90.82" r="1.55" fill="#00a050"/><circle cx="207.82" cy="96.15" r="1.55" fill="#00a050"/><circle cx="212.09" cy="108.95" r="1.55" fill="#00a050"/><circle cx="216.36" cy="184.67" r="1.55" fill="#00a050"/><circle cx="220.62" cy="197.47" r="1.55" fill="#00a050"/><circle cx="224.89" cy="206.00" r="1.55" fill="#00a050"/><circle cx="229.16" cy="207.07" r="1.55" fill="#00a050"/><circle cx="233.43" cy="207.07" r="1.55" fill="#00a050"/><circle cx="237.70" cy="207.07" r="1.55" fill="#00a050"/><circle cx="241.96" cy="206.00" r="1.55" fill="#00a050"/><circle cx="246.23" cy="206.00" r="1.55" fill="#00a050"/><circle cx="250.50" cy="206.00" r="1.55" fill="#00a050"/></g>
<g font-family="Liberation Sans, Arial, sans-serif" font-size="8.3" fill="#151515">
<path d="M56.6 121.80H77.2" stroke="#00a050" stroke-width="1.25"/>
<circle cx="66.90" cy="121.80" r="1.55" fill="#00a050"/>
<text x="82.2" y="124.80">1 <tspan font-family="Liberation Serif, Times New Roman, serif" font-size="9" stroke="none">μ</tspan>M</text>
<path d="M56.6 134.33H77.2" stroke="#059a50" stroke-width="1.25"/>
<circle cx="66.90" cy="134.33" r="1.65" fill="#059a50"/>
<text x="82.2" y="137.33">2 <tspan font-family="Liberation Serif, Times New Roman, serif" font-size="9" stroke="none">μ</tspan>M</text>
<path d="M56.6 146.86H77.2" stroke="#1a8a55" stroke-width="1.25"/>
<path d="M65.05 145.38L68.75 145.38L66.90 148.71Z" fill="#1a8a55"/>
<text x="82.2" y="149.86">4 <tspan font-family="Liberation Serif, Times New Roman, serif" font-size="9" stroke="none">μ</tspan>M</text>
<path d="M56.6 159.39H77.2" stroke="#458e6a" stroke-width="1.25"/>
<path d="M65.10 160.83L68.70 160.83L66.90 157.59Z" fill="#458e6a"/>
<text x="82.2" y="162.39">6 <tspan font-family="Liberation Serif, Times New Roman, serif" font-size="9" stroke="none">μ</tspan>M</text>
<path d="M56.6 171.92H77.2" stroke="#3a7155" stroke-width="1.25"/>
<rect x="65.50" y="170.52" width="2.80" height="2.80" fill="#3a7155"/>
<text x="82.2" y="174.92">8 <tspan font-family="Liberation Serif, Times New Roman, serif" font-size="9" stroke="none">μ</tspan>M</text>
<path d="M56.6 184.45H77.2" stroke="#52695d" stroke-width="1.25"/>
<rect x="65.40" y="182.95" width="3.00" height="3.00" fill="#52695d"/>
<text x="82.2" y="187.45">10 <tspan font-family="Liberation Serif, Times New Roman, serif" font-size="9" stroke="none">μ</tspan>M</text>
<path d="M56.6 196.98H77.2" stroke="#2a3630" stroke-width="1.25"/>
<path d="M65.09 196.98L66.90 195.17L68.71 196.98L66.90 198.79Z" fill="#2a3630"/>
<text x="82.2" y="199.98">12 <tspan font-family="Liberation Serif, Times New Roman, serif" font-size="9" stroke="none">μ</tspan>M</text>
</g>
<text x="138.1" y="263.7" text-anchor="middle" font-family="Liberation Serif, Times New Roman, serif" font-size="12.6" fill="#111">(<tspan font-weight="bold">a</tspan>)</text>
</g>
<g>
<path d="M327.5 5.6H541.5" fill="none" stroke="#636363" stroke-width="1.0"/>
<path d="M541.5 5.10V218.5" fill="none" stroke="#636363" stroke-width="1.0"/>
<path d="M327.5 5.6V218.5H541.5" fill="none" stroke="#5f5f5f" stroke-width="1.1"/>
<path d="M327.50 218.5v3.1M336.06 218.5v1.6M344.62 218.5v1.6M353.18 218.5v1.6M361.74 218.5v1.6M370.30 218.5v3.1M378.86 218.5v1.6M387.42 218.5v1.6M395.98 218.5v1.6M404.54 218.5v1.6M413.10 218.5v3.1M421.66 218.5v1.6M430.22 218.5v1.6M438.78 218.5v1.6M447.34 218.5v1.6M455.90 218.5v3.1M464.46 218.5v1.6M473.02 218.5v1.6M481.58 218.5v1.6M490.14 218.5v1.6M498.70 218.5v3.1M507.26 218.5v1.6M515.82 218.5v1.6M524.38 218.5v1.6M532.94 218.5v1.6M541.50 218.5v3.1M327.5 218.50h-3.1M327.5 211.40h-1.6M327.5 204.31h-1.6M327.5 197.21h-1.6M327.5 190.11h-1.6M327.5 183.02h-3.1M327.5 175.92h-1.6M327.5 168.82h-1.6M327.5 161.73h-1.6M327.5 154.63h-1.6M327.5 147.53h-3.1M327.5 140.44h-1.6M327.5 133.34h-1.6M327.5 126.24h-1.6M327.5 119.15h-1.6M327.5 112.05h-3.1M327.5 104.95h-1.6M327.5 97.86h-1.6M327.5 90.76h-1.6M327.5 83.66h-1.6M327.5 76.57h-3.1M327.5 69.47h-1.6M327.5 62.37h-1.6M327.5 55.28h-1.6M327.5 48.18h-1.6M327.5 41.08h-3.1M327.5 33.99h-1.6M327.5 26.89h-1.6M327.5 19.79h-1.6M327.5 12.70h-1.6M327.5 5.60h-3.1" fill="none" stroke="#5f5f5f" stroke-width="0.9"/>
<g font-family="Liberation Sans, Arial, sans-serif" font-size="8.55" fill="#151515" stroke="#151515" stroke-width="0.2">
<text x="327.50" y="234.10" text-anchor="middle">0.0</text>
<text x="370.30" y="234.10" text-anchor="middle">0.5</text>
<text x="413.10" y="234.10" text-anchor="middle">1.0</text>
<text x="455.90" y="234.10" text-anchor="middle">1.5</text>
<text x="498.70" y="234.10" text-anchor="middle">2.0</text>
<text x="541.50" y="234.10" text-anchor="middle">2.5</text>
<text x="320.30" y="221.60" text-anchor="end">0</text>
<text x="320.30" y="186.12" text-anchor="end">20</text>
<text x="320.30" y="150.63" text-anchor="end">40</text>
<text x="320.30" y="115.15" text-anchor="end">60</text>
<text x="320.30" y="79.67" text-anchor="end">80</text>
<text x="320.30" y="44.18" text-anchor="end">100</text>
<text x="320.30" y="8.70" text-anchor="end">120</text>
</g>
<text x="542.50" y="244.70" text-anchor="end" font-family="Liberation Sans, Arial, sans-serif" font-weight="bold" font-size="8.7" fill="#0a0a0a">Titrant volume, mL</text>
<text transform="translate(302 100.2) rotate(-90)" text-anchor="middle" font-family="Liberation Sans, Arial, sans-serif" font-weight="bold" font-size="8.58" fill="#0a0a0a">Blue, 8-bit integer</text>
<path d="M327.50 12.70L331.78 12.70L336.06 12.70L340.34 12.70L344.62 10.92L348.90 12.70L353.18 12.70L357.46 12.70L361.74 12.70L366.02 14.47L370.30 12.70L374.58 14.47L378.86 14.88L383.14 15.12L387.42 15.08L391.70 15.89L395.98 16.07L400.26 16.17L404.54 16.22L408.82 16.79L413.10 16.60L417.38 19.62L421.66 20.27L425.94 20.81L430.22 21.30L434.50 22.28L438.78 21.21L443.06 22.66L447.34 23.46L451.62 24.71L455.90 25.29L460.18 25.91L464.46 26.98L468.74 28.13L473.02 29.68L477.30 30.26L481.58 32.23L485.86 35.23L490.14 37.75L494.42 41.26L498.70 46.58L502.98 68.23L507.26 175.39L511.54 180.71L515.82 184.26L520.10 186.56L524.38 185.68L528.66 184.79L532.94 186.56L537.22 186.56L541.50 186.56" fill="none" stroke="#43217f" stroke-width="1.15" stroke-linejoin="round"/>
<g><circle cx="327.50" cy="12.70" r="1.55" fill="#43217f"/><circle cx="331.78" cy="12.70" r="1.55" fill="#43217f"/><circle cx="336.06" cy="12.70" r="1.55" fill="#43217f"/><circle cx="340.34" cy="12.70" r="1.55" fill="#43217f"/><circle cx="344.62" cy="10.92" r="1.55" fill="#43217f"/><circle cx="348.90" cy="12.70" r="1.55" fill="#43217f"/><circle cx="353.18" cy="12.70" r="1.55" fill="#43217f"/><circle cx="357.46" cy="12.70" r="1.55" fill="#43217f"/><circle cx="361.74" cy="12.70" r="1.55" fill="#43217f"/><circle cx="366.02" cy="14.47" r="1.55" fill="#43217f"/><circle cx="370.30" cy="12.70" r="1.55" fill="#43217f"/><circle cx="374.58" cy="14.47" r="1.55" fill="#43217f"/><circle cx="378.86" cy="14.88" r="1.55" fill="#43217f"/><circle cx="383.14" cy="15.12" r="1.55" fill="#43217f"/><circle cx="387.42" cy="15.08" r="1.55" fill="#43217f"/><circle cx="391.70" cy="15.89" r="1.55" fill="#43217f"/><circle cx="395.98" cy="16.07" r="1.55" fill="#43217f"/><circle cx="400.26" cy="16.17" r="1.55" fill="#43217f"/><circle cx="404.54" cy="16.22" r="1.55" fill="#43217f"/><circle cx="408.82" cy="16.79" r="1.55" fill="#43217f"/><circle cx="413.10" cy="16.60" r="1.55" fill="#43217f"/><circle cx="417.38" cy="19.62" r="1.55" fill="#43217f"/><circle cx="421.66" cy="20.27" r="1.55" fill="#43217f"/><circle cx="425.94" cy="20.81" r="1.55" fill="#43217f"/><circle cx="430.22" cy="21.30" r="1.55" fill="#43217f"/><circle cx="434.50" cy="22.28" r="1.55" fill="#43217f"/><circle cx="438.78" cy="21.21" r="1.55" fill="#43217f"/><circle cx="443.06" cy="22.66" r="1.55" fill="#43217f"/><circle cx="447.34" cy="23.46" r="1.55" fill="#43217f"/><circle cx="451.62" cy="24.71" r="1.55" fill="#43217f"/><circle cx="455.90" cy="25.29" r="1.55" fill="#43217f"/><circle cx="460.18" cy="25.91" r="1.55" fill="#43217f"/><circle cx="464.46" cy="26.98" r="1.55" fill="#43217f"/><circle cx="468.74" cy="28.13" r="1.55" fill="#43217f"/><circle cx="473.02" cy="29.68" r="1.55" fill="#43217f"/><circle cx="477.30" cy="30.26" r="1.55" fill="#43217f"/><circle cx="481.58" cy="32.23" r="1.55" fill="#43217f"/><circle cx="485.86" cy="35.23" r="1.55" fill="#43217f"/><circle cx="490.14" cy="37.75" r="1.55" fill="#43217f"/><circle cx="494.42" cy="41.26" r="1.55" fill="#43217f"/><circle cx="498.70" cy="46.58" r="1.55" fill="#43217f"/><circle cx="502.98" cy="68.23" r="1.55" fill="#43217f"/><circle cx="507.26" cy="175.39" r="1.55" fill="#43217f"/><circle cx="511.54" cy="180.71" r="1.55" fill="#43217f"/><circle cx="515.82" cy="184.26" r="1.55" fill="#43217f"/><circle cx="520.10" cy="186.56" r="1.55" fill="#43217f"/><circle cx="524.38" cy="185.68" r="1.55" fill="#43217f"/><circle cx="528.66" cy="184.79" r="1.55" fill="#43217f"/><circle cx="532.94" cy="186.56" r="1.55" fill="#43217f"/><circle cx="537.22" cy="186.56" r="1.55" fill="#43217f"/><circle cx="541.50" cy="186.56" r="1.55" fill="#43217f"/></g>
<path d="M327.50 18.02L331.78 18.02L336.06 18.02L340.34 19.79L344.62 19.79L348.90 21.57L353.18 19.79L357.46 21.57L361.74 21.57L366.02 19.79L370.30 21.57L374.58 22.99L378.86 23.10L383.14 22.92L387.42 22.98L391.70 23.80L395.98 24.06L400.26 23.62L404.54 23.52L408.82 24.19L413.10 23.79L417.38 24.31L421.66 24.79L425.94 25.29L430.22 27.16L434.50 29.20L438.78 29.36L443.06 30.48L447.34 30.45L451.62 31.24L455.90 31.15L460.18 31.90L464.46 33.81L468.74 30.26L473.02 34.35L477.30 37.18L481.58 39.21L485.86 42.15L490.14 45.24L494.42 47.12L498.70 52.08L502.98 67.70L507.26 192.42L511.54 198.63L515.82 200.94L520.10 200.94L524.38 202.00L528.66 200.05L532.94 202.00L537.22 202.00L541.50 202.18" fill="none" stroke="#472883" stroke-width="1.15" stroke-linejoin="round"/>
<g><circle cx="327.50" cy="18.02" r="1.65" fill="#472883"/><circle cx="331.78" cy="18.02" r="1.65" fill="#472883"/><circle cx="336.06" cy="18.02" r="1.65" fill="#472883"/><circle cx="340.34" cy="19.79" r="1.65" fill="#472883"/><circle cx="344.62" cy="19.79" r="1.65" fill="#472883"/><circle cx="348.90" cy="21.57" r="1.65" fill="#472883"/><circle cx="353.18" cy="19.79" r="1.65" fill="#472883"/><circle cx="357.46" cy="21.57" r="1.65" fill="#472883"/><circle cx="361.74" cy="21.57" r="1.65" fill="#472883"/><circle cx="366.02" cy="19.79" r="1.65" fill="#472883"/><circle cx="370.30" cy="21.57" r="1.65" fill="#472883"/><circle cx="374.58" cy="22.99" r="1.65" fill="#472883"/><circle cx="378.86" cy="23.10" r="1.65" fill="#472883"/><circle cx="383.14" cy="22.92" r="1.65" fill="#472883"/><circle cx="387.42" cy="22.98" r="1.65" fill="#472883"/><circle cx="391.70" cy="23.80" r="1.65" fill="#472883"/><circle cx="395.98" cy="24.06" r="1.65" fill="#472883"/><circle cx="400.26" cy="23.62" r="1.65" fill="#472883"/><circle cx="404.54" cy="23.52" r="1.65" fill="#472883"/><circle cx="408.82" cy="24.19" r="1.65" fill="#472883"/><circle cx="413.10" cy="23.79" r="1.65" fill="#472883"/><circle cx="417.38" cy="24.31" r="1.65" fill="#472883"/><circle cx="421.66" cy="24.79" r="1.65" fill="#472883"/><circle cx="425.94" cy="25.29" r="1.65" fill="#472883"/><circle cx="430.22" cy="27.16" r="1.65" fill="#472883"/><circle cx="434.50" cy="29.20" r="1.65" fill="#472883"/><circle cx="438.78" cy="29.36" r="1.65" fill="#472883"/><circle cx="443.06" cy="30.48" r="1.65" fill="#472883"/><circle cx="447.34" cy="30.45" r="1.65" fill="#472883"/><circle cx="451.62" cy="31.24" r="1.65" fill="#472883"/><circle cx="455.90" cy="31.15" r="1.65" fill="#472883"/><circle cx="460.18" cy="31.90" r="1.65" fill="#472883"/><circle cx="464.46" cy="33.81" r="1.65" fill="#472883"/><circle cx="468.74" cy="30.26" r="1.65" fill="#472883"/><circle cx="473.02" cy="34.35" r="1.65" fill="#472883"/><circle cx="477.30" cy="37.18" r="1.65" fill="#472883"/><circle cx="481.58" cy="39.21" r="1.65" fill="#472883"/><circle cx="485.86" cy="42.15" r="1.65" fill="#472883"/><circle cx="490.14" cy="45.24" r="1.65" fill="#472883"/><circle cx="494.42" cy="47.12" r="1.65" fill="#472883"/><circle cx="498.70" cy="52.08" r="1.65" fill="#472883"/><circle cx="502.98" cy="67.70" r="1.65" fill="#472883"/><circle cx="507.26" cy="192.42" r="1.65" fill="#472883"/><circle cx="511.54" cy="198.63" r="1.65" fill="#472883"/><circle cx="515.82" cy="200.94" r="1.65" fill="#472883"/><circle cx="520.10" cy="200.94" r="1.65" fill="#472883"/><circle cx="524.38" cy="202.00" r="1.65" fill="#472883"/><circle cx="528.66" cy="200.05" r="1.65" fill="#472883"/><circle cx="532.94" cy="202.00" r="1.65" fill="#472883"/><circle cx="537.22" cy="202.00" r="1.65" fill="#472883"/><circle cx="541.50" cy="202.18" r="1.65" fill="#472883"/></g>
<path d="M327.50 30.44L331.78 30.44L336.06 32.21L340.34 32.21L344.62 33.99L348.90 33.99L353.18 33.99L357.46 33.99L361.74 32.21L366.02 33.99L370.30 33.99L374.58 35.76L378.86 35.92L383.14 35.23L387.42 35.29L391.70 35.68L395.98 35.78L400.26 37.35L404.54 37.18L408.82 38.31L413.10 39.11L417.38 39.13L421.66 39.80L425.94 39.07L430.22 40.32L434.50 39.84L438.78 39.79L443.06 40.35L447.34 39.84L451.62 41.89L455.90 43.21L460.18 43.95L464.46 43.86L468.74 44.88L473.02 45.70L477.30 47.74L481.58 48.46L485.86 49.24L490.14 52.62L494.42 60.24L498.70 68.23L502.98 112.05L507.26 191.89L511.54 202.00L515.82 204.48L520.10 205.55L524.38 205.55L528.66 205.55L532.94 205.55L537.22 205.55L541.50 208.03" fill="none" stroke="#4d3787" stroke-width="1.15" stroke-linejoin="round"/>
<g><path d="M325.65 28.96L329.35 28.96L327.50 32.29Z" fill="#4d3787"/><path d="M329.93 28.96L333.63 28.96L331.78 32.29Z" fill="#4d3787"/><path d="M334.21 30.73L337.91 30.73L336.06 34.06Z" fill="#4d3787"/><path d="M338.49 30.73L342.19 30.73L340.34 34.06Z" fill="#4d3787"/><path d="M342.77 32.51L346.47 32.51L344.62 35.84Z" fill="#4d3787"/><path d="M347.05 32.51L350.75 32.51L348.90 35.84Z" fill="#4d3787"/><path d="M351.33 32.51L355.03 32.51L353.18 35.84Z" fill="#4d3787"/><path d="M355.61 32.51L359.31 32.51L357.46 35.84Z" fill="#4d3787"/><path d="M359.89 30.73L363.59 30.73L361.74 34.06Z" fill="#4d3787"/><path d="M364.17 32.51L367.87 32.51L366.02 35.84Z" fill="#4d3787"/><path d="M368.45 32.51L372.15 32.51L370.30 35.84Z" fill="#4d3787"/><path d="M372.73 34.28L376.43 34.28L374.58 37.61Z" fill="#4d3787"/><path d="M377.01 34.44L380.71 34.44L378.86 37.77Z" fill="#4d3787"/><path d="M381.29 33.75L384.99 33.75L383.14 37.08Z" fill="#4d3787"/><path d="M385.57 33.81L389.27 33.81L387.42 37.14Z" fill="#4d3787"/><path d="M389.85 34.20L393.55 34.20L391.70 37.53Z" fill="#4d3787"/><path d="M394.13 34.30L397.83 34.30L395.98 37.63Z" fill="#4d3787"/><path d="M398.41 35.87L402.11 35.87L400.26 39.20Z" fill="#4d3787"/><path d="M402.69 35.70L406.39 35.70L404.54 39.03Z" fill="#4d3787"/><path d="M406.97 36.83L410.67 36.83L408.82 40.16Z" fill="#4d3787"/><path d="M411.25 37.63L414.95 37.63L413.10 40.96Z" fill="#4d3787"/><path d="M415.53 37.65L419.23 37.65L417.38 40.98Z" fill="#4d3787"/><path d="M419.81 38.32L423.51 38.32L421.66 41.65Z" fill="#4d3787"/><path d="M424.09 37.59L427.79 37.59L425.94 40.92Z" fill="#4d3787"/><path d="M428.37 38.84L432.07 38.84L430.22 42.17Z" fill="#4d3787"/><path d="M432.65 38.36L436.35 38.36L434.50 41.69Z" fill="#4d3787"/><path d="M436.93 38.31L440.63 38.31L438.78 41.64Z" fill="#4d3787"/><path d="M441.21 38.87L444.91 38.87L443.06 42.20Z" fill="#4d3787"/><path d="M445.49 38.36L449.19 38.36L447.34 41.69Z" fill="#4d3787"/><path d="M449.77 40.41L453.47 40.41L451.62 43.74Z" fill="#4d3787"/><path d="M454.05 41.73L457.75 41.73L455.90 45.06Z" fill="#4d3787"/><path d="M458.33 42.47L462.03 42.47L460.18 45.80Z" fill="#4d3787"/><path d="M462.61 42.38L466.31 42.38L464.46 45.71Z" fill="#4d3787"/><path d="M466.89 43.40L470.59 43.40L468.74 46.73Z" fill="#4d3787"/><path d="M471.17 44.22L474.87 44.22L473.02 47.55Z" fill="#4d3787"/><path d="M475.45 46.26L479.15 46.26L477.30 49.59Z" fill="#4d3787"/><path d="M479.73 46.98L483.43 46.98L481.58 50.31Z" fill="#4d3787"/><path d="M484.01 47.76L487.71 47.76L485.86 51.09Z" fill="#4d3787"/><path d="M488.29 51.14L491.99 51.14L490.14 54.47Z" fill="#4d3787"/><path d="M492.57 58.76L496.27 58.76L494.42 62.09Z" fill="#4d3787"/><path d="M496.85 66.75L500.55 66.75L498.70 70.08Z" fill="#4d3787"/><path d="M501.13 110.57L504.83 110.57L502.98 113.90Z" fill="#4d3787"/><path d="M505.41 190.41L509.11 190.41L507.26 193.74Z" fill="#4d3787"/><path d="M509.69 200.52L513.39 200.52L511.54 203.85Z" fill="#4d3787"/><path d="M513.97 203.00L517.67 203.00L515.82 206.33Z" fill="#4d3787"/><path d="M518.25 204.07L521.95 204.07L520.10 207.40Z" fill="#4d3787"/><path d="M522.53 204.07L526.23 204.07L524.38 207.40Z" fill="#4d3787"/><path d="M526.81 204.07L530.51 204.07L528.66 207.40Z" fill="#4d3787"/><path d="M531.09 204.07L534.79 204.07L532.94 207.40Z" fill="#4d3787"/><path d="M535.37 204.07L539.07 204.07L537.22 207.40Z" fill="#4d3787"/><path d="M539.65 206.55L543.35 206.55L541.50 209.88Z" fill="#4d3787"/></g>
<path d="M327.50 53.50L331.78 53.50L336.06 55.28L340.34 53.50L344.62 55.28L348.90 55.28L353.18 57.05L357.46 57.05L361.74 55.28L366.02 55.28L370.30 55.28L374.58 56.16L378.86 58.37L383.14 59.18L387.42 58.55L391.70 58.38L395.98 57.60L400.26 58.12L404.54 59.35L408.82 60.20L413.10 60.60L417.38 58.82L421.66 59.92L425.94 61.84L430.22 61.21L434.50 61.13L438.78 62.49L443.06 62.82L447.34 64.15L451.62 67.70L455.90 65.21L460.18 66.90L464.46 68.23L468.74 69.51L473.02 71.78L477.30 73.40L481.58 74.16L485.86 74.62L490.14 79.23L494.42 87.21L498.70 105.13L502.98 143.99L507.26 198.98L511.54 210.34L515.82 211.05L520.10 211.05L524.38 211.05L528.66 211.05L532.94 213.00L537.22 213.00L541.50 211.05" fill="none" stroke="#554981" stroke-width="1.15" stroke-linejoin="round"/>
<g><path d="M325.70 54.94L329.30 54.94L327.50 51.70Z" fill="#554981"/><path d="M329.98 54.94L333.58 54.94L331.78 51.70Z" fill="#554981"/><path d="M334.26 56.72L337.86 56.72L336.06 53.48Z" fill="#554981"/><path d="M338.54 54.94L342.14 54.94L340.34 51.70Z" fill="#554981"/><path d="M342.82 56.72L346.42 56.72L344.62 53.48Z" fill="#554981"/><path d="M347.10 56.72L350.70 56.72L348.90 53.48Z" fill="#554981"/><path d="M351.38 58.49L354.98 58.49L353.18 55.25Z" fill="#554981"/><path d="M355.66 58.49L359.26 58.49L357.46 55.25Z" fill="#554981"/><path d="M359.94 56.72L363.54 56.72L361.74 53.48Z" fill="#554981"/><path d="M364.22 56.72L367.82 56.72L366.02 53.48Z" fill="#554981"/><path d="M368.50 56.72L372.10 56.72L370.30 53.48Z" fill="#554981"/><path d="M372.78 57.60L376.38 57.60L374.58 54.36Z" fill="#554981"/><path d="M377.06 59.81L380.66 59.81L378.86 56.57Z" fill="#554981"/><path d="M381.34 60.62L384.94 60.62L383.14 57.38Z" fill="#554981"/><path d="M385.62 59.99L389.22 59.99L387.42 56.75Z" fill="#554981"/><path d="M389.90 59.82L393.50 59.82L391.70 56.58Z" fill="#554981"/><path d="M394.18 59.04L397.78 59.04L395.98 55.80Z" fill="#554981"/><path d="M398.46 59.56L402.06 59.56L400.26 56.32Z" fill="#554981"/><path d="M402.74 60.79L406.34 60.79L404.54 57.55Z" fill="#554981"/><path d="M407.02 61.64L410.62 61.64L408.82 58.40Z" fill="#554981"/><path d="M411.30 62.04L414.90 62.04L413.10 58.80Z" fill="#554981"/><path d="M415.58 60.26L419.18 60.26L417.38 57.02Z" fill="#554981"/><path d="M419.86 61.36L423.46 61.36L421.66 58.12Z" fill="#554981"/><path d="M424.14 63.28L427.74 63.28L425.94 60.04Z" fill="#554981"/><path d="M428.42 62.65L432.02 62.65L430.22 59.41Z" fill="#554981"/><path d="M432.70 62.57L436.30 62.57L434.50 59.33Z" fill="#554981"/><path d="M436.98 63.93L440.58 63.93L438.78 60.69Z" fill="#554981"/><path d="M441.26 64.26L444.86 64.26L443.06 61.02Z" fill="#554981"/><path d="M445.54 65.59L449.14 65.59L447.34 62.35Z" fill="#554981"/><path d="M449.82 69.14L453.42 69.14L451.62 65.90Z" fill="#554981"/><path d="M454.10 66.65L457.70 66.65L455.90 63.41Z" fill="#554981"/><path d="M458.38 68.34L461.98 68.34L460.18 65.10Z" fill="#554981"/><path d="M462.66 69.67L466.26 69.67L464.46 66.43Z" fill="#554981"/><path d="M466.94 70.95L470.54 70.95L468.74 67.71Z" fill="#554981"/><path d="M471.22 73.22L474.82 73.22L473.02 69.98Z" fill="#554981"/><path d="M475.50 74.84L479.10 74.84L477.30 71.60Z" fill="#554981"/><path d="M479.78 75.60L483.38 75.60L481.58 72.36Z" fill="#554981"/><path d="M484.06 76.06L487.66 76.06L485.86 72.82Z" fill="#554981"/><path d="M488.34 80.67L491.94 80.67L490.14 77.43Z" fill="#554981"/><path d="M492.62 88.65L496.22 88.65L494.42 85.41Z" fill="#554981"/><path d="M496.90 106.57L500.50 106.57L498.70 103.33Z" fill="#554981"/><path d="M501.18 145.43L504.78 145.43L502.98 142.19Z" fill="#554981"/><path d="M505.46 200.42L509.06 200.42L507.26 197.18Z" fill="#554981"/><path d="M509.74 211.78L513.34 211.78L511.54 208.54Z" fill="#554981"/><path d="M514.02 212.49L517.62 212.49L515.82 209.25Z" fill="#554981"/><path d="M518.30 212.49L521.90 212.49L520.10 209.25Z" fill="#554981"/><path d="M522.58 212.49L526.18 212.49L524.38 209.25Z" fill="#554981"/><path d="M526.86 212.49L530.46 212.49L528.66 209.25Z" fill="#554981"/><path d="M531.14 214.44L534.74 214.44L532.94 211.20Z" fill="#554981"/><path d="M535.42 214.44L539.02 214.44L537.22 211.20Z" fill="#554981"/><path d="M539.70 212.49L543.30 212.49L541.50 209.25Z" fill="#554981"/></g>
<path d="M327.50 78.16L331.78 78.34L336.06 81.89L340.34 81.08L344.62 83.28L348.90 81.92L353.18 83.33L357.46 81.74L361.74 83.98L366.02 83.13L370.30 82.81L374.58 83.72L378.86 83.83L383.14 85.08L387.42 84.44L391.70 86.49L395.98 86.70L400.26 86.34L404.54 87.21L408.82 88.68L413.10 89.73L417.38 90.23L421.66 90.81L425.94 89.47L430.22 89.43L434.50 90.23L438.78 91.25L443.06 94.13L447.34 95.20L451.62 93.94L455.90 94.49L460.18 95.70L464.46 97.54L468.74 98.21L473.02 99.73L477.30 101.05L481.58 105.13L485.86 108.76L490.14 112.05L494.42 119.15L498.70 149.31L502.98 191.89L507.26 213.18L511.54 214.95L515.82 215.84L520.10 214.95L524.38 215.84L528.66 214.95L532.94 215.84L537.22 215.84L541.50 215.84" fill="none" stroke="#453b5c" stroke-width="1.15" stroke-linejoin="round"/>
<g><rect x="326.10" y="76.76" width="2.80" height="2.80" fill="#453b5c"/><rect x="330.38" y="76.94" width="2.80" height="2.80" fill="#453b5c"/><rect x="334.66" y="80.49" width="2.80" height="2.80" fill="#453b5c"/><rect x="338.94" y="79.68" width="2.80" height="2.80" fill="#453b5c"/><rect x="343.22" y="81.88" width="2.80" height="2.80" fill="#453b5c"/><rect x="347.50" y="80.52" width="2.80" height="2.80" fill="#453b5c"/><rect x="351.78" y="81.93" width="2.80" height="2.80" fill="#453b5c"/><rect x="356.06" y="80.34" width="2.80" height="2.80" fill="#453b5c"/><rect x="360.34" y="82.58" width="2.80" height="2.80" fill="#453b5c"/><rect x="364.62" y="81.73" width="2.80" height="2.80" fill="#453b5c"/><rect x="368.90" y="81.41" width="2.80" height="2.80" fill="#453b5c"/><rect x="373.18" y="82.32" width="2.80" height="2.80" fill="#453b5c"/><rect x="377.46" y="82.43" width="2.80" height="2.80" fill="#453b5c"/><rect x="381.74" y="83.68" width="2.80" height="2.80" fill="#453b5c"/><rect x="386.02" y="83.04" width="2.80" height="2.80" fill="#453b5c"/><rect x="390.30" y="85.09" width="2.80" height="2.80" fill="#453b5c"/><rect x="394.58" y="85.30" width="2.80" height="2.80" fill="#453b5c"/><rect x="398.86" y="84.94" width="2.80" height="2.80" fill="#453b5c"/><rect x="403.14" y="85.81" width="2.80" height="2.80" fill="#453b5c"/><rect x="407.42" y="87.28" width="2.80" height="2.80" fill="#453b5c"/><rect x="411.70" y="88.33" width="2.80" height="2.80" fill="#453b5c"/><rect x="415.98" y="88.83" width="2.80" height="2.80" fill="#453b5c"/><rect x="420.26" y="89.41" width="2.80" height="2.80" fill="#453b5c"/><rect x="424.54" y="88.07" width="2.80" height="2.80" fill="#453b5c"/><rect x="428.82" y="88.03" width="2.80" height="2.80" fill="#453b5c"/><rect x="433.10" y="88.83" width="2.80" height="2.80" fill="#453b5c"/><rect x="437.38" y="89.85" width="2.80" height="2.80" fill="#453b5c"/><rect x="441.66" y="92.73" width="2.80" height="2.80" fill="#453b5c"/><rect x="445.94" y="93.80" width="2.80" height="2.80" fill="#453b5c"/><rect x="450.22" y="92.54" width="2.80" height="2.80" fill="#453b5c"/><rect x="454.50" y="93.09" width="2.80" height="2.80" fill="#453b5c"/><rect x="458.78" y="94.30" width="2.80" height="2.80" fill="#453b5c"/><rect x="463.06" y="96.14" width="2.80" height="2.80" fill="#453b5c"/><rect x="467.34" y="96.81" width="2.80" height="2.80" fill="#453b5c"/><rect x="471.62" y="98.33" width="2.80" height="2.80" fill="#453b5c"/><rect x="475.90" y="99.65" width="2.80" height="2.80" fill="#453b5c"/><rect x="480.18" y="103.73" width="2.80" height="2.80" fill="#453b5c"/><rect x="484.46" y="107.36" width="2.80" height="2.80" fill="#453b5c"/><rect x="488.74" y="110.65" width="2.80" height="2.80" fill="#453b5c"/><rect x="493.02" y="117.75" width="2.80" height="2.80" fill="#453b5c"/><rect x="497.30" y="147.91" width="2.80" height="2.80" fill="#453b5c"/><rect x="501.58" y="190.49" width="2.80" height="2.80" fill="#453b5c"/><rect x="505.86" y="211.78" width="2.80" height="2.80" fill="#453b5c"/><rect x="510.14" y="213.55" width="2.80" height="2.80" fill="#453b5c"/><rect x="514.42" y="214.44" width="2.80" height="2.80" fill="#453b5c"/><rect x="518.70" y="213.55" width="2.80" height="2.80" fill="#453b5c"/><rect x="522.98" y="214.44" width="2.80" height="2.80" fill="#453b5c"/><rect x="527.26" y="213.55" width="2.80" height="2.80" fill="#453b5c"/><rect x="531.54" y="214.44" width="2.80" height="2.80" fill="#453b5c"/><rect x="535.82" y="214.44" width="2.80" height="2.80" fill="#453b5c"/><rect x="540.10" y="214.44" width="2.80" height="2.80" fill="#453b5c"/></g>
<path d="M327.50 83.66L331.78 83.96L336.06 83.66L340.34 81.00L344.62 81.55L348.90 82.18L353.18 82.62L357.46 83.21L361.74 83.18L366.02 84.02L370.30 85.06L374.58 84.80L378.86 86.66L383.14 86.15L387.42 86.96L391.70 87.28L395.98 88.08L400.26 87.19L404.54 88.10L408.82 88.80L413.10 88.07L417.38 88.99L421.66 88.68L425.94 90.84L430.22 90.14L434.50 91.65L438.78 91.88L443.06 93.06L447.34 94.31L451.62 96.02L455.90 95.73L460.18 97.12L464.46 98.06L468.74 99.63L473.02 101.66L477.30 102.82L481.58 107.61L485.86 113.08L490.14 117.37L494.42 129.79L498.70 165.28L502.98 204.31L507.26 215.84L511.54 216.73L515.82 216.73L520.10 216.73L524.38 216.73L528.66 216.73L532.94 216.73L537.22 216.73L541.50 216.73" fill="none" stroke="#4b475c" stroke-width="1.15" stroke-linejoin="round"/>
<g><rect x="326.00" y="82.16" width="3.00" height="3.00" fill="#4b475c"/><rect x="330.28" y="82.46" width="3.00" height="3.00" fill="#4b475c"/><rect x="334.56" y="82.16" width="3.00" height="3.00" fill="#4b475c"/><rect x="338.84" y="79.50" width="3.00" height="3.00" fill="#4b475c"/><rect x="343.12" y="80.05" width="3.00" height="3.00" fill="#4b475c"/><rect x="347.40" y="80.68" width="3.00" height="3.00" fill="#4b475c"/><rect x="351.68" y="81.12" width="3.00" height="3.00" fill="#4b475c"/><rect x="355.96" y="81.71" width="3.00" height="3.00" fill="#4b475c"/><rect x="360.24" y="81.68" width="3.00" height="3.00" fill="#4b475c"/><rect x="364.52" y="82.52" width="3.00" height="3.00" fill="#4b475c"/><rect x="368.80" y="83.56" width="3.00" height="3.00" fill="#4b475c"/><rect x="373.08" y="83.30" width="3.00" height="3.00" fill="#4b475c"/><rect x="377.36" y="85.16" width="3.00" height="3.00" fill="#4b475c"/><rect x="381.64" y="84.65" width="3.00" height="3.00" fill="#4b475c"/><rect x="385.92" y="85.46" width="3.00" height="3.00" fill="#4b475c"/><rect x="390.20" y="85.78" width="3.00" height="3.00" fill="#4b475c"/><rect x="394.48" y="86.58" width="3.00" height="3.00" fill="#4b475c"/><rect x="398.76" y="85.69" width="3.00" height="3.00" fill="#4b475c"/><rect x="403.04" y="86.60" width="3.00" height="3.00" fill="#4b475c"/><rect x="407.32" y="87.30" width="3.00" height="3.00" fill="#4b475c"/><rect x="411.60" y="86.57" width="3.00" height="3.00" fill="#4b475c"/><rect x="415.88" y="87.49" width="3.00" height="3.00" fill="#4b475c"/><rect x="420.16" y="87.18" width="3.00" height="3.00" fill="#4b475c"/><rect x="424.44" y="89.34" width="3.00" height="3.00" fill="#4b475c"/><rect x="428.72" y="88.64" width="3.00" height="3.00" fill="#4b475c"/><rect x="433.00" y="90.15" width="3.00" height="3.00" fill="#4b475c"/><rect x="437.28" y="90.38" width="3.00" height="3.00" fill="#4b475c"/><rect x="441.56" y="91.56" width="3.00" height="3.00" fill="#4b475c"/><rect x="445.84" y="92.81" width="3.00" height="3.00" fill="#4b475c"/><rect x="450.12" y="94.52" width="3.00" height="3.00" fill="#4b475c"/><rect x="454.40" y="94.23" width="3.00" height="3.00" fill="#4b475c"/><rect x="458.68" y="95.62" width="3.00" height="3.00" fill="#4b475c"/><rect x="462.96" y="96.56" width="3.00" height="3.00" fill="#4b475c"/><rect x="467.24" y="98.13" width="3.00" height="3.00" fill="#4b475c"/><rect x="471.52" y="100.16" width="3.00" height="3.00" fill="#4b475c"/><rect x="475.80" y="101.32" width="3.00" height="3.00" fill="#4b475c"/><rect x="480.08" y="106.11" width="3.00" height="3.00" fill="#4b475c"/><rect x="484.36" y="111.58" width="3.00" height="3.00" fill="#4b475c"/><rect x="488.64" y="115.87" width="3.00" height="3.00" fill="#4b475c"/><rect x="492.92" y="128.29" width="3.00" height="3.00" fill="#4b475c"/><rect x="497.20" y="163.78" width="3.00" height="3.00" fill="#4b475c"/><rect x="501.48" y="202.81" width="3.00" height="3.00" fill="#4b475c"/><rect x="505.76" y="214.34" width="3.00" height="3.00" fill="#4b475c"/><rect x="510.04" y="215.23" width="3.00" height="3.00" fill="#4b475c"/><rect x="514.32" y="215.23" width="3.00" height="3.00" fill="#4b475c"/><rect x="518.60" y="215.23" width="3.00" height="3.00" fill="#4b475c"/><rect x="522.88" y="215.23" width="3.00" height="3.00" fill="#4b475c"/><rect x="527.16" y="215.23" width="3.00" height="3.00" fill="#4b475c"/><rect x="531.44" y="215.23" width="3.00" height="3.00" fill="#4b475c"/><rect x="535.72" y="215.23" width="3.00" height="3.00" fill="#4b475c"/><rect x="540.00" y="215.23" width="3.00" height="3.00" fill="#4b475c"/></g>
<path d="M327.50 103.18L331.78 103.15L336.06 103.18L340.34 101.05L344.62 102.66L348.90 105.13L353.18 102.47L357.46 103.18L361.74 105.49L366.02 106.55L370.30 107.06L374.58 108.03L378.86 108.98L383.14 110.10L387.42 111.65L391.70 112.76L395.98 113.24L400.26 113.72L404.54 115.07L408.82 113.11L413.10 114.49L417.38 115.15L421.66 116.43L425.94 117.20L430.22 118.66L434.50 121.10L438.78 120.86L443.06 122.02L447.34 121.56L451.62 123.28L455.90 123.05L460.18 124.65L464.46 127.13L468.74 128.55L473.02 131.03L477.30 132.63L481.58 137.07L485.86 138.84L490.14 146.82L494.42 162.97L498.70 198.63L502.98 216.73L507.26 217.44L511.54 217.44L515.82 217.44L520.10 217.44L524.38 217.44L528.66 218.50L532.94 217.44L537.22 217.44L541.50 217.44" fill="none" stroke="#2c2a36" stroke-width="1.15" stroke-linejoin="round"/>
<g><path d="M325.69 103.18L327.50 101.37L329.31 103.18L327.50 104.99Z" fill="#2c2a36"/><path d="M329.97 103.15L331.78 101.34L333.59 103.15L331.78 104.96Z" fill="#2c2a36"/><path d="M334.25 103.18L336.06 101.37L337.87 103.18L336.06 104.99Z" fill="#2c2a36"/><path d="M338.53 101.05L340.34 99.24L342.15 101.05L340.34 102.86Z" fill="#2c2a36"/><path d="M342.81 102.66L344.62 100.84L346.43 102.66L344.62 104.47Z" fill="#2c2a36"/><path d="M347.09 105.13L348.90 103.32L350.71 105.13L348.90 106.94Z" fill="#2c2a36"/><path d="M351.37 102.47L353.18 100.66L354.99 102.47L353.18 104.28Z" fill="#2c2a36"/><path d="M355.65 103.18L357.46 101.36L359.27 103.18L357.46 104.99Z" fill="#2c2a36"/><path d="M359.93 105.49L361.74 103.68L363.55 105.49L361.74 107.30Z" fill="#2c2a36"/><path d="M364.21 106.55L366.02 104.74L367.83 106.55L366.02 108.36Z" fill="#2c2a36"/><path d="M368.49 107.06L370.30 105.25L372.11 107.06L370.30 108.87Z" fill="#2c2a36"/><path d="M372.77 108.03L374.58 106.22L376.39 108.03L374.58 109.85Z" fill="#2c2a36"/><path d="M377.05 108.98L378.86 107.17L380.67 108.98L378.86 110.79Z" fill="#2c2a36"/><path d="M381.33 110.10L383.14 108.29L384.95 110.10L383.14 111.91Z" fill="#2c2a36"/><path d="M385.61 111.65L387.42 109.83L389.23 111.65L387.42 113.46Z" fill="#2c2a36"/><path d="M389.89 112.76L391.70 110.94L393.51 112.76L391.70 114.57Z" fill="#2c2a36"/><path d="M394.17 113.24L395.98 111.43L397.79 113.24L395.98 115.06Z" fill="#2c2a36"/><path d="M398.45 113.72L400.26 111.91L402.07 113.72L400.26 115.54Z" fill="#2c2a36"/><path d="M402.73 115.07L404.54 113.25L406.35 115.07L404.54 116.88Z" fill="#2c2a36"/><path d="M407.01 113.11L408.82 111.30L410.63 113.11L408.82 114.93Z" fill="#2c2a36"/><path d="M411.29 114.49L413.10 112.67L414.91 114.49L413.10 116.30Z" fill="#2c2a36"/><path d="M415.57 115.15L417.38 113.34L419.19 115.15L417.38 116.97Z" fill="#2c2a36"/><path d="M419.85 116.43L421.66 114.62L423.47 116.43L421.66 118.25Z" fill="#2c2a36"/><path d="M424.13 117.20L425.94 115.38L427.75 117.20L425.94 119.01Z" fill="#2c2a36"/><path d="M428.41 118.66L430.22 116.84L432.03 118.66L430.22 120.47Z" fill="#2c2a36"/><path d="M432.69 121.10L434.50 119.29L436.31 121.10L434.50 122.91Z" fill="#2c2a36"/><path d="M436.97 120.86L438.78 119.04L440.59 120.86L438.78 122.67Z" fill="#2c2a36"/><path d="M441.25 122.02L443.06 120.21L444.87 122.02L443.06 123.83Z" fill="#2c2a36"/><path d="M445.53 121.56L447.34 119.75L449.15 121.56L447.34 123.37Z" fill="#2c2a36"/><path d="M449.81 123.28L451.62 121.47L453.43 123.28L451.62 125.09Z" fill="#2c2a36"/><path d="M454.09 123.05L455.90 121.24L457.71 123.05L455.90 124.86Z" fill="#2c2a36"/><path d="M458.37 124.65L460.18 122.83L461.99 124.65L460.18 126.46Z" fill="#2c2a36"/><path d="M462.65 127.13L464.46 125.32L466.27 127.13L464.46 128.94Z" fill="#2c2a36"/><path d="M466.93 128.55L468.74 126.74L470.55 128.55L468.74 130.36Z" fill="#2c2a36"/><path d="M471.21 131.03L473.02 129.22L474.83 131.03L473.02 132.85Z" fill="#2c2a36"/><path d="M475.49 132.63L477.30 130.82L479.11 132.63L477.30 134.44Z" fill="#2c2a36"/><path d="M479.77 137.07L481.58 135.25L483.39 137.07L481.58 138.88Z" fill="#2c2a36"/><path d="M484.05 138.84L485.86 137.03L487.67 138.84L485.86 140.65Z" fill="#2c2a36"/><path d="M488.33 146.82L490.14 145.01L491.95 146.82L490.14 148.64Z" fill="#2c2a36"/><path d="M492.61 162.97L494.42 161.16L496.23 162.97L494.42 164.78Z" fill="#2c2a36"/><path d="M496.89 198.63L498.70 196.82L500.51 198.63L498.70 200.44Z" fill="#2c2a36"/><path d="M501.17 216.73L502.98 214.91L504.79 216.73L502.98 218.54Z" fill="#2c2a36"/><path d="M505.45 217.44L507.26 215.62L509.07 217.44L507.26 219.25Z" fill="#2c2a36"/><path d="M509.73 217.44L511.54 215.62L513.35 217.44L511.54 219.25Z" fill="#2c2a36"/><path d="M514.01 217.44L515.82 215.62L517.63 217.44L515.82 219.25Z" fill="#2c2a36"/><path d="M518.29 217.44L520.10 215.62L521.91 217.44L520.10 219.25Z" fill="#2c2a36"/><path d="M522.57 217.44L524.38 215.62L526.19 217.44L524.38 219.25Z" fill="#2c2a36"/><path d="M526.85 218.50L528.66 216.69L530.47 218.50L528.66 220.31Z" fill="#2c2a36"/><path d="M531.13 217.44L532.94 215.62L534.75 217.44L532.94 219.25Z" fill="#2c2a36"/><path d="M535.41 217.44L537.22 215.62L539.03 217.44L537.22 219.25Z" fill="#2c2a36"/><path d="M539.69 217.44L541.50 215.62L543.31 217.44L541.50 219.25Z" fill="#2c2a36"/></g>
<g font-family="Liberation Sans, Arial, sans-serif" font-size="8.3" fill="#151515">
<path d="M344 129.00H364.5" stroke="#43217f" stroke-width="1.25"/>
<circle cx="354.25" cy="129.00" r="1.55" fill="#43217f"/>
<text x="369.5" y="132.00">1 <tspan font-family="Liberation Serif, Times New Roman, serif" font-size="9" stroke="none">μ</tspan>M</text>
<path d="M344 141.45H364.5" stroke="#472883" stroke-width="1.25"/>
<circle cx="354.25" cy="141.45" r="1.65" fill="#472883"/>
<text x="369.5" y="144.45">2 <tspan font-family="Liberation Serif, Times New Roman, serif" font-size="9" stroke="none">μ</tspan>M</text>
<path d="M344 153.90H364.5" stroke="#4d3787" stroke-width="1.25"/>
<path d="M352.40 152.42L356.10 152.42L354.25 155.75Z" fill="#4d3787"/>
<text x="369.5" y="156.90">4 <tspan font-family="Liberation Serif, Times New Roman, serif" font-size="9" stroke="none">μ</tspan>M</text>
<path d="M344 166.35H364.5" stroke="#554981" stroke-width="1.25"/>
<path d="M352.45 167.79L356.05 167.79L354.25 164.55Z" fill="#554981"/>
<text x="369.5" y="169.35">6 <tspan font-family="Liberation Serif, Times New Roman, serif" font-size="9" stroke="none">μ</tspan>M</text>
<path d="M344 178.80H364.5" stroke="#453b5c" stroke-width="1.25"/>
<rect x="352.85" y="177.40" width="2.80" height="2.80" fill="#453b5c"/>
<text x="369.5" y="181.80">8 <tspan font-family="Liberation Serif, Times New Roman, serif" font-size="9" stroke="none">μ</tspan>M</text>
<path d="M344 191.25H364.5" stroke="#4b475c" stroke-width="1.25"/>
<rect x="352.75" y="189.75" width="3.00" height="3.00" fill="#4b475c"/>
<text x="369.5" y="194.25">10 <tspan font-family="Liberation Serif, Times New Roman, serif" font-size="9" stroke="none">μ</tspan>M</text>
<path d="M344 203.70H364.5" stroke="#2c2a36" stroke-width="1.25"/>
<path d="M352.44 203.70L354.25 201.89L356.06 203.70L354.25 205.51Z" fill="#2c2a36"/>
<text x="369.5" y="206.70">12 <tspan font-family="Liberation Serif, Times New Roman, serif" font-size="9" stroke="none">μ</tspan>M</text>
</g>
<text x="428.7" y="263.7" text-anchor="middle" font-family="Liberation Serif, Times New Roman, serif" font-size="12.6" fill="#111">(<tspan font-weight="bold">b</tspan>)</text>
</g>
<g>
<path d="M37.3 294.4H250.5" fill="none" stroke="#858585" stroke-width="1.6"/>
<path d="M250.5 293.60V507.5" fill="none" stroke="#636363" stroke-width="1.2"/>
<path d="M37.3 293.9V507.5H250.5" fill="none" stroke="#666" stroke-width="1.1"/>
<path d="M37.30 507.5v3.1M45.83 507.5v1.6M54.36 507.5v1.6M62.88 507.5v1.6M71.41 507.5v1.6M79.94 507.5v3.1M88.47 507.5v1.6M97.00 507.5v1.6M105.52 507.5v1.6M114.05 507.5v1.6M122.58 507.5v3.1M131.11 507.5v1.6M139.64 507.5v1.6M148.16 507.5v1.6M156.69 507.5v1.6M165.22 507.5v3.1M173.75 507.5v1.6M182.28 507.5v1.6M190.80 507.5v1.6M199.33 507.5v1.6M207.86 507.5v3.1M216.39 507.5v1.6M224.92 507.5v1.6M233.44 507.5v1.6M241.97 507.5v1.6M250.50 507.5v3.1M37.3 507.50h-3.1M37.3 498.96h-1.6M37.3 490.41h-1.6M37.3 481.87h-1.6M37.3 473.32h-1.6M37.3 464.78h-3.1M37.3 456.24h-1.6M37.3 447.69h-1.6M37.3 439.15h-1.6M37.3 430.60h-1.6M37.3 422.06h-3.1M37.3 413.52h-1.6M37.3 404.97h-1.6M37.3 396.43h-1.6M37.3 387.88h-1.6M37.3 379.34h-3.1M37.3 370.80h-1.6M37.3 362.25h-1.6M37.3 353.71h-1.6M37.3 345.16h-1.6M37.3 336.62h-3.1M37.3 328.08h-1.6M37.3 319.53h-1.6M37.3 310.99h-1.6M37.3 302.44h-1.6M37.3 293.90h-3.1" fill="none" stroke="#5f5f5f" stroke-width="0.9"/>
<g font-family="Liberation Sans, Arial, sans-serif" font-size="8.55" fill="#151515" stroke="#151515" stroke-width="0.2">
<text x="37.30" y="523.10" text-anchor="middle">0.0</text>
<text x="79.94" y="523.10" text-anchor="middle">0.5</text>
<text x="122.58" y="523.10" text-anchor="middle">1.0</text>
<text x="165.22" y="523.10" text-anchor="middle">1.5</text>
<text x="207.86" y="523.10" text-anchor="middle">2.0</text>
<text x="250.50" y="523.10" text-anchor="middle">2.5</text>
<text x="30.10" y="510.60" text-anchor="end">0</text>
<text x="30.10" y="467.88" text-anchor="end">20</text>
<text x="30.10" y="425.16" text-anchor="end">40</text>
<text x="30.10" y="382.44" text-anchor="end">60</text>
<text x="30.10" y="339.72" text-anchor="end">80</text>
<text x="30.10" y="297.00" text-anchor="end">100</text>
</g>
<text x="251.50" y="533.70" text-anchor="end" font-family="Liberation Sans, Arial, sans-serif" font-weight="bold" font-size="8.7" fill="#0a0a0a">Titrant volume, mL</text>
<text transform="translate(11.3 389.1) rotate(-90)" text-anchor="middle" font-family="Liberation Sans, Arial, sans-serif" font-weight="bold" font-size="8.6" fill="#0a0a0a">Red, 8-bit integer</text>
<path d="M37.30 505.36L41.56 507.50L45.83 507.50L50.09 507.50L54.36 507.50L58.62 505.36L62.88 507.50L67.15 507.50L71.41 507.50L75.68 507.50L79.94 507.50L84.20 507.50L88.47 507.50L92.73 507.50L97.00 507.50L101.26 507.50L105.52 505.36L109.79 507.50L114.05 505.36L118.32 507.50L122.58 505.36L126.84 507.50L131.11 505.36L135.37 507.50L139.64 505.36L143.90 507.50L148.16 503.23L152.43 507.50L156.69 507.50L160.96 507.50L165.22 507.50L169.48 505.36L173.75 507.50L178.01 507.50L182.28 507.50L186.54 507.50L190.80 507.50L195.07 505.36L199.33 507.50L203.60 505.36L207.86 507.50L212.12 507.50L216.39 461.79L220.65 459.65L224.92 457.73L229.18 455.81L233.44 453.89L237.71 455.81L241.97 454.10L246.24 455.81L250.50 457.94" fill="none" stroke="#ee3a24" stroke-width="1.15" stroke-linejoin="round"/>
<g><circle cx="37.30" cy="505.36" r="1.55" fill="#ee3a24"/><circle cx="41.56" cy="507.50" r="1.55" fill="#ee3a24"/><circle cx="45.83" cy="507.50" r="1.55" fill="#ee3a24"/><circle cx="50.09" cy="507.50" r="1.55" fill="#ee3a24"/><circle cx="54.36" cy="507.50" r="1.55" fill="#ee3a24"/><circle cx="58.62" cy="505.36" r="1.55" fill="#ee3a24"/><circle cx="62.88" cy="507.50" r="1.55" fill="#ee3a24"/><circle cx="67.15" cy="507.50" r="1.55" fill="#ee3a24"/><circle cx="71.41" cy="507.50" r="1.55" fill="#ee3a24"/><circle cx="75.68" cy="507.50" r="1.55" fill="#ee3a24"/><circle cx="79.94" cy="507.50" r="1.55" fill="#ee3a24"/><circle cx="84.20" cy="507.50" r="1.55" fill="#ee3a24"/><circle cx="88.47" cy="507.50" r="1.55" fill="#ee3a24"/><circle cx="92.73" cy="507.50" r="1.55" fill="#ee3a24"/><circle cx="97.00" cy="507.50" r="1.55" fill="#ee3a24"/><circle cx="101.26" cy="507.50" r="1.55" fill="#ee3a24"/><circle cx="105.52" cy="505.36" r="1.55" fill="#ee3a24"/><circle cx="109.79" cy="507.50" r="1.55" fill="#ee3a24"/><circle cx="114.05" cy="505.36" r="1.55" fill="#ee3a24"/><circle cx="118.32" cy="507.50" r="1.55" fill="#ee3a24"/><circle cx="122.58" cy="505.36" r="1.55" fill="#ee3a24"/><circle cx="126.84" cy="507.50" r="1.55" fill="#ee3a24"/><circle cx="131.11" cy="505.36" r="1.55" fill="#ee3a24"/><circle cx="135.37" cy="507.50" r="1.55" fill="#ee3a24"/><circle cx="139.64" cy="505.36" r="1.55" fill="#ee3a24"/><circle cx="143.90" cy="507.50" r="1.55" fill="#ee3a24"/><circle cx="148.16" cy="503.23" r="1.55" fill="#ee3a24"/><circle cx="152.43" cy="507.50" r="1.55" fill="#ee3a24"/><circle cx="156.69" cy="507.50" r="1.55" fill="#ee3a24"/><circle cx="160.96" cy="507.50" r="1.55" fill="#ee3a24"/><circle cx="165.22" cy="507.50" r="1.55" fill="#ee3a24"/><circle cx="169.48" cy="505.36" r="1.55" fill="#ee3a24"/><circle cx="173.75" cy="507.50" r="1.55" fill="#ee3a24"/><circle cx="178.01" cy="507.50" r="1.55" fill="#ee3a24"/><circle cx="182.28" cy="507.50" r="1.55" fill="#ee3a24"/><circle cx="186.54" cy="507.50" r="1.55" fill="#ee3a24"/><circle cx="190.80" cy="507.50" r="1.55" fill="#ee3a24"/><circle cx="195.07" cy="505.36" r="1.55" fill="#ee3a24"/><circle cx="199.33" cy="507.50" r="1.55" fill="#ee3a24"/><circle cx="203.60" cy="505.36" r="1.55" fill="#ee3a24"/><circle cx="207.86" cy="507.50" r="1.55" fill="#ee3a24"/><circle cx="212.12" cy="507.50" r="1.55" fill="#ee3a24"/><circle cx="216.39" cy="461.79" r="1.55" fill="#ee3a24"/><circle cx="220.65" cy="459.65" r="1.55" fill="#ee3a24"/><circle cx="224.92" cy="457.73" r="1.55" fill="#ee3a24"/><circle cx="229.18" cy="455.81" r="1.55" fill="#ee3a24"/><circle cx="233.44" cy="453.89" r="1.55" fill="#ee3a24"/><circle cx="237.71" cy="455.81" r="1.55" fill="#ee3a24"/><circle cx="241.97" cy="454.10" r="1.55" fill="#ee3a24"/><circle cx="246.24" cy="455.81" r="1.55" fill="#ee3a24"/><circle cx="250.50" cy="457.94" r="1.55" fill="#ee3a24"/></g>
<path d="M37.30 507.50L41.56 505.36L45.83 507.50L50.09 507.50L54.36 507.50L58.62 507.50L62.88 507.50L67.15 507.50L71.41 507.50L75.68 507.50L79.94 507.50L84.20 507.50L88.47 505.36L92.73 507.50L97.00 507.50L101.26 507.50L105.52 507.50L109.79 505.36L114.05 507.50L118.32 505.36L122.58 507.50L126.84 505.36L131.11 507.50L135.37 505.36L139.64 507.50L143.90 507.50L148.16 507.50L152.43 507.50L156.69 507.50L160.96 507.50L165.22 507.50L169.48 507.50L173.75 507.50L178.01 507.50L182.28 507.50L186.54 507.50L190.80 507.50L195.07 507.50L199.33 505.36L203.60 507.50L207.86 507.50L212.12 507.50L216.39 445.13L220.65 447.48L224.92 447.48L229.18 447.48L233.44 445.56L237.71 447.69L241.97 447.69L246.24 445.13L250.50 441.28" fill="none" stroke="#e2452c" stroke-width="1.15" stroke-linejoin="round"/>
<g><circle cx="37.30" cy="507.50" r="1.65" fill="#e2452c"/><circle cx="41.56" cy="505.36" r="1.65" fill="#e2452c"/><circle cx="45.83" cy="507.50" r="1.65" fill="#e2452c"/><circle cx="50.09" cy="507.50" r="1.65" fill="#e2452c"/><circle cx="54.36" cy="507.50" r="1.65" fill="#e2452c"/><circle cx="58.62" cy="507.50" r="1.65" fill="#e2452c"/><circle cx="62.88" cy="507.50" r="1.65" fill="#e2452c"/><circle cx="67.15" cy="507.50" r="1.65" fill="#e2452c"/><circle cx="71.41" cy="507.50" r="1.65" fill="#e2452c"/><circle cx="75.68" cy="507.50" r="1.65" fill="#e2452c"/><circle cx="79.94" cy="507.50" r="1.65" fill="#e2452c"/><circle cx="84.20" cy="507.50" r="1.65" fill="#e2452c"/><circle cx="88.47" cy="505.36" r="1.65" fill="#e2452c"/><circle cx="92.73" cy="507.50" r="1.65" fill="#e2452c"/><circle cx="97.00" cy="507.50" r="1.65" fill="#e2452c"/><circle cx="101.26" cy="507.50" r="1.65" fill="#e2452c"/><circle cx="105.52" cy="507.50" r="1.65" fill="#e2452c"/><circle cx="109.79" cy="505.36" r="1.65" fill="#e2452c"/><circle cx="114.05" cy="507.50" r="1.65" fill="#e2452c"/><circle cx="118.32" cy="505.36" r="1.65" fill="#e2452c"/><circle cx="122.58" cy="507.50" r="1.65" fill="#e2452c"/><circle cx="126.84" cy="505.36" r="1.65" fill="#e2452c"/><circle cx="131.11" cy="507.50" r="1.65" fill="#e2452c"/><circle cx="135.37" cy="505.36" r="1.65" fill="#e2452c"/><circle cx="139.64" cy="507.50" r="1.65" fill="#e2452c"/><circle cx="143.90" cy="507.50" r="1.65" fill="#e2452c"/><circle cx="148.16" cy="507.50" r="1.65" fill="#e2452c"/><circle cx="152.43" cy="507.50" r="1.65" fill="#e2452c"/><circle cx="156.69" cy="507.50" r="1.65" fill="#e2452c"/><circle cx="160.96" cy="507.50" r="1.65" fill="#e2452c"/><circle cx="165.22" cy="507.50" r="1.65" fill="#e2452c"/><circle cx="169.48" cy="507.50" r="1.65" fill="#e2452c"/><circle cx="173.75" cy="507.50" r="1.65" fill="#e2452c"/><circle cx="178.01" cy="507.50" r="1.65" fill="#e2452c"/><circle cx="182.28" cy="507.50" r="1.65" fill="#e2452c"/><circle cx="186.54" cy="507.50" r="1.65" fill="#e2452c"/><circle cx="190.80" cy="507.50" r="1.65" fill="#e2452c"/><circle cx="195.07" cy="507.50" r="1.65" fill="#e2452c"/><circle cx="199.33" cy="505.36" r="1.65" fill="#e2452c"/><circle cx="203.60" cy="507.50" r="1.65" fill="#e2452c"/><circle cx="207.86" cy="507.50" r="1.65" fill="#e2452c"/><circle cx="212.12" cy="507.50" r="1.65" fill="#e2452c"/><circle cx="216.39" cy="445.13" r="1.65" fill="#e2452c"/><circle cx="220.65" cy="447.48" r="1.65" fill="#e2452c"/><circle cx="224.92" cy="447.48" r="1.65" fill="#e2452c"/><circle cx="229.18" cy="447.48" r="1.65" fill="#e2452c"/><circle cx="233.44" cy="445.56" r="1.65" fill="#e2452c"/><circle cx="237.71" cy="447.69" r="1.65" fill="#e2452c"/><circle cx="241.97" cy="447.69" r="1.65" fill="#e2452c"/><circle cx="246.24" cy="445.13" r="1.65" fill="#e2452c"/><circle cx="250.50" cy="441.28" r="1.65" fill="#e2452c"/></g>
<path d="M37.30 338.76L41.56 338.76L45.83 340.89L50.09 343.46L54.36 343.46L58.62 340.89L62.88 343.46L67.15 343.46L71.41 340.89L75.68 343.46L79.94 343.46L84.20 345.16L88.47 343.24L92.73 343.24L97.00 345.16L101.26 343.24L105.52 345.16L109.79 345.16L114.05 345.16L118.32 345.16L122.58 343.24L126.84 345.16L131.11 345.16L135.37 343.24L139.64 345.16L143.90 345.16L148.16 347.73L152.43 347.73L156.69 347.73L160.96 347.73L165.22 347.73L169.48 350.29L173.75 347.73L178.01 349.44L182.28 349.48L186.54 349.52L190.80 349.56L195.07 349.61L199.33 349.65L203.60 351.79L207.86 358.19L212.12 364.39L216.39 391.94L220.65 408.18L224.92 418.86L229.18 410.74L233.44 409.03L237.71 408.18L241.97 407.11L246.24 410.74L250.50 408.18" fill="none" stroke="#c54a30" stroke-width="1.15" stroke-linejoin="round"/>
<g><path d="M35.45 337.28L39.15 337.28L37.30 340.61Z" fill="#c54a30"/><path d="M39.71 337.28L43.41 337.28L41.56 340.61Z" fill="#c54a30"/><path d="M43.98 339.41L47.68 339.41L45.83 342.74Z" fill="#c54a30"/><path d="M48.24 341.98L51.94 341.98L50.09 345.31Z" fill="#c54a30"/><path d="M52.51 341.98L56.21 341.98L54.36 345.31Z" fill="#c54a30"/><path d="M56.77 339.41L60.47 339.41L58.62 342.74Z" fill="#c54a30"/><path d="M61.03 341.98L64.73 341.98L62.88 345.31Z" fill="#c54a30"/><path d="M65.30 341.98L69.00 341.98L67.15 345.31Z" fill="#c54a30"/><path d="M69.56 339.41L73.26 339.41L71.41 342.74Z" fill="#c54a30"/><path d="M73.83 341.98L77.53 341.98L75.68 345.31Z" fill="#c54a30"/><path d="M78.09 341.98L81.79 341.98L79.94 345.31Z" fill="#c54a30"/><path d="M82.35 343.68L86.05 343.68L84.20 347.01Z" fill="#c54a30"/><path d="M86.62 341.76L90.32 341.76L88.47 345.09Z" fill="#c54a30"/><path d="M90.88 341.76L94.58 341.76L92.73 345.09Z" fill="#c54a30"/><path d="M95.15 343.68L98.85 343.68L97.00 347.01Z" fill="#c54a30"/><path d="M99.41 341.76L103.11 341.76L101.26 345.09Z" fill="#c54a30"/><path d="M103.67 343.68L107.37 343.68L105.52 347.01Z" fill="#c54a30"/><path d="M107.94 343.68L111.64 343.68L109.79 347.01Z" fill="#c54a30"/><path d="M112.20 343.68L115.90 343.68L114.05 347.01Z" fill="#c54a30"/><path d="M116.47 343.68L120.17 343.68L118.32 347.01Z" fill="#c54a30"/><path d="M120.73 341.76L124.43 341.76L122.58 345.09Z" fill="#c54a30"/><path d="M124.99 343.68L128.69 343.68L126.84 347.01Z" fill="#c54a30"/><path d="M129.26 343.68L132.96 343.68L131.11 347.01Z" fill="#c54a30"/><path d="M133.52 341.76L137.22 341.76L135.37 345.09Z" fill="#c54a30"/><path d="M137.79 343.68L141.49 343.68L139.64 347.01Z" fill="#c54a30"/><path d="M142.05 343.68L145.75 343.68L143.90 347.01Z" fill="#c54a30"/><path d="M146.31 346.25L150.01 346.25L148.16 349.58Z" fill="#c54a30"/><path d="M150.58 346.25L154.28 346.25L152.43 349.58Z" fill="#c54a30"/><path d="M154.84 346.25L158.54 346.25L156.69 349.58Z" fill="#c54a30"/><path d="M159.11 346.25L162.81 346.25L160.96 349.58Z" fill="#c54a30"/><path d="M163.37 346.25L167.07 346.25L165.22 349.58Z" fill="#c54a30"/><path d="M167.63 348.81L171.33 348.81L169.48 352.14Z" fill="#c54a30"/><path d="M171.90 346.25L175.60 346.25L173.75 349.58Z" fill="#c54a30"/><path d="M176.16 347.96L179.86 347.96L178.01 351.29Z" fill="#c54a30"/><path d="M180.43 348.00L184.13 348.00L182.28 351.33Z" fill="#c54a30"/><path d="M184.69 348.04L188.39 348.04L186.54 351.37Z" fill="#c54a30"/><path d="M188.95 348.08L192.65 348.08L190.80 351.41Z" fill="#c54a30"/><path d="M193.22 348.13L196.92 348.13L195.07 351.46Z" fill="#c54a30"/><path d="M197.48 348.17L201.18 348.17L199.33 351.50Z" fill="#c54a30"/><path d="M201.75 350.31L205.45 350.31L203.60 353.64Z" fill="#c54a30"/><path d="M206.01 356.71L209.71 356.71L207.86 360.04Z" fill="#c54a30"/><path d="M210.27 362.91L213.97 362.91L212.12 366.24Z" fill="#c54a30"/><path d="M214.54 390.46L218.24 390.46L216.39 393.79Z" fill="#c54a30"/><path d="M218.80 406.70L222.50 406.70L220.65 410.03Z" fill="#c54a30"/><path d="M223.07 417.38L226.77 417.38L224.92 420.71Z" fill="#c54a30"/><path d="M227.33 409.26L231.03 409.26L229.18 412.59Z" fill="#c54a30"/><path d="M231.59 407.55L235.29 407.55L233.44 410.88Z" fill="#c54a30"/><path d="M235.86 406.70L239.56 406.70L237.71 410.03Z" fill="#c54a30"/><path d="M240.12 405.63L243.82 405.63L241.97 408.96Z" fill="#c54a30"/><path d="M244.39 409.26L248.09 409.26L246.24 412.59Z" fill="#c54a30"/><path d="M248.65 406.70L252.35 406.70L250.50 410.03Z" fill="#c54a30"/></g>
<path d="M37.30 315.26L41.56 315.26L45.83 315.26L50.09 315.26L54.36 315.26L58.62 315.26L62.88 312.70L67.15 315.26L71.41 315.26L75.68 312.70L79.94 312.70L84.20 314.83L88.47 314.15L92.73 313.97L97.00 313.90L101.26 314.80L105.52 314.00L109.79 313.98L114.05 315.25L118.32 316.33L122.58 316.65L126.84 317.51L131.11 317.40L135.37 318.08L139.64 318.04L143.90 318.25L148.16 319.32L152.43 319.73L156.69 320.39L160.96 320.85L165.22 320.63L169.48 319.96L173.75 322.31L178.01 322.89L182.28 324.12L186.54 324.87L190.80 325.94L195.07 326.67L199.33 327.44L203.60 328.29L207.86 334.48L212.12 375.07L216.39 401.77L220.65 405.40L224.92 409.24L229.18 404.54L233.44 409.24L237.71 408.18L241.97 403.69L246.24 407.11L250.50 407.11" fill="none" stroke="#a8543c" stroke-width="1.15" stroke-linejoin="round"/>
<g><path d="M35.50 316.70L39.10 316.70L37.30 313.46Z" fill="#a8543c"/><path d="M39.76 316.70L43.36 316.70L41.56 313.46Z" fill="#a8543c"/><path d="M44.03 316.70L47.63 316.70L45.83 313.46Z" fill="#a8543c"/><path d="M48.29 316.70L51.89 316.70L50.09 313.46Z" fill="#a8543c"/><path d="M52.56 316.70L56.16 316.70L54.36 313.46Z" fill="#a8543c"/><path d="M56.82 316.70L60.42 316.70L58.62 313.46Z" fill="#a8543c"/><path d="M61.08 314.14L64.68 314.14L62.88 310.90Z" fill="#a8543c"/><path d="M65.35 316.70L68.95 316.70L67.15 313.46Z" fill="#a8543c"/><path d="M69.61 316.70L73.21 316.70L71.41 313.46Z" fill="#a8543c"/><path d="M73.88 314.14L77.48 314.14L75.68 310.90Z" fill="#a8543c"/><path d="M78.14 314.14L81.74 314.14L79.94 310.90Z" fill="#a8543c"/><path d="M82.40 316.27L86.00 316.27L84.20 313.03Z" fill="#a8543c"/><path d="M86.67 315.59L90.27 315.59L88.47 312.35Z" fill="#a8543c"/><path d="M90.93 315.41L94.53 315.41L92.73 312.17Z" fill="#a8543c"/><path d="M95.20 315.34L98.80 315.34L97.00 312.10Z" fill="#a8543c"/><path d="M99.46 316.24L103.06 316.24L101.26 313.00Z" fill="#a8543c"/><path d="M103.72 315.44L107.32 315.44L105.52 312.20Z" fill="#a8543c"/><path d="M107.99 315.42L111.59 315.42L109.79 312.18Z" fill="#a8543c"/><path d="M112.25 316.69L115.85 316.69L114.05 313.45Z" fill="#a8543c"/><path d="M116.52 317.77L120.12 317.77L118.32 314.53Z" fill="#a8543c"/><path d="M120.78 318.09L124.38 318.09L122.58 314.85Z" fill="#a8543c"/><path d="M125.04 318.95L128.64 318.95L126.84 315.71Z" fill="#a8543c"/><path d="M129.31 318.84L132.91 318.84L131.11 315.60Z" fill="#a8543c"/><path d="M133.57 319.52L137.17 319.52L135.37 316.28Z" fill="#a8543c"/><path d="M137.84 319.48L141.44 319.48L139.64 316.24Z" fill="#a8543c"/><path d="M142.10 319.69L145.70 319.69L143.90 316.45Z" fill="#a8543c"/><path d="M146.36 320.76L149.96 320.76L148.16 317.52Z" fill="#a8543c"/><path d="M150.63 321.17L154.23 321.17L152.43 317.93Z" fill="#a8543c"/><path d="M154.89 321.83L158.49 321.83L156.69 318.59Z" fill="#a8543c"/><path d="M159.16 322.29L162.76 322.29L160.96 319.05Z" fill="#a8543c"/><path d="M163.42 322.07L167.02 322.07L165.22 318.83Z" fill="#a8543c"/><path d="M167.68 321.40L171.28 321.40L169.48 318.16Z" fill="#a8543c"/><path d="M171.95 323.75L175.55 323.75L173.75 320.51Z" fill="#a8543c"/><path d="M176.21 324.33L179.81 324.33L178.01 321.09Z" fill="#a8543c"/><path d="M180.48 325.56L184.08 325.56L182.28 322.32Z" fill="#a8543c"/><path d="M184.74 326.31L188.34 326.31L186.54 323.07Z" fill="#a8543c"/><path d="M189.00 327.38L192.60 327.38L190.80 324.14Z" fill="#a8543c"/><path d="M193.27 328.11L196.87 328.11L195.07 324.87Z" fill="#a8543c"/><path d="M197.53 328.88L201.13 328.88L199.33 325.64Z" fill="#a8543c"/><path d="M201.80 329.73L205.40 329.73L203.60 326.49Z" fill="#a8543c"/><path d="M206.06 335.92L209.66 335.92L207.86 332.68Z" fill="#a8543c"/><path d="M210.32 376.51L213.92 376.51L212.12 373.27Z" fill="#a8543c"/><path d="M214.59 403.21L218.19 403.21L216.39 399.97Z" fill="#a8543c"/><path d="M218.85 406.84L222.45 406.84L220.65 403.60Z" fill="#a8543c"/><path d="M223.12 410.68L226.72 410.68L224.92 407.44Z" fill="#a8543c"/><path d="M227.38 405.98L230.98 405.98L229.18 402.74Z" fill="#a8543c"/><path d="M231.64 410.68L235.24 410.68L233.44 407.44Z" fill="#a8543c"/><path d="M235.91 409.62L239.51 409.62L237.71 406.38Z" fill="#a8543c"/><path d="M240.17 405.13L243.77 405.13L241.97 401.89Z" fill="#a8543c"/><path d="M244.44 408.55L248.04 408.55L246.24 405.31Z" fill="#a8543c"/><path d="M248.70 408.55L252.30 408.55L250.50 405.31Z" fill="#a8543c"/></g>
<path d="M37.30 302.44L41.56 302.44L45.83 302.44L50.09 304.58L54.36 304.58L58.62 304.58L62.88 304.58L67.15 304.58L71.41 304.58L75.68 304.58L79.94 304.58L84.20 304.58L88.47 304.58L92.73 306.72L97.00 306.72L101.26 306.72L105.52 306.72L109.79 306.29L114.05 306.29L118.32 306.29L122.58 306.29L126.84 306.29L131.11 306.29L135.37 309.28L139.64 309.07L143.90 308.85L148.16 308.85L152.43 308.85L156.69 310.99L160.96 310.99L165.22 310.99L169.48 310.99L173.75 310.99L178.01 310.99L182.28 313.98L186.54 316.11L190.80 318.25L195.07 319.32L199.33 320.39L203.60 324.44L207.86 334.48L212.12 387.46L216.39 393.86L220.65 398.56L224.92 396.43L229.18 396.43L233.44 396.43L237.71 396.43L241.97 396.43L246.24 396.43L250.50 396.43" fill="none" stroke="#7a4638" stroke-width="1.15" stroke-linejoin="round"/>
<g><rect x="35.90" y="301.04" width="2.80" height="2.80" fill="#7a4638"/><rect x="40.16" y="301.04" width="2.80" height="2.80" fill="#7a4638"/><rect x="44.43" y="301.04" width="2.80" height="2.80" fill="#7a4638"/><rect x="48.69" y="303.18" width="2.80" height="2.80" fill="#7a4638"/><rect x="52.96" y="303.18" width="2.80" height="2.80" fill="#7a4638"/><rect x="57.22" y="303.18" width="2.80" height="2.80" fill="#7a4638"/><rect x="61.48" y="303.18" width="2.80" height="2.80" fill="#7a4638"/><rect x="65.75" y="303.18" width="2.80" height="2.80" fill="#7a4638"/><rect x="70.01" y="303.18" width="2.80" height="2.80" fill="#7a4638"/><rect x="74.28" y="303.18" width="2.80" height="2.80" fill="#7a4638"/><rect x="78.54" y="303.18" width="2.80" height="2.80" fill="#7a4638"/><rect x="82.80" y="303.18" width="2.80" height="2.80" fill="#7a4638"/><rect x="87.07" y="303.18" width="2.80" height="2.80" fill="#7a4638"/><rect x="91.33" y="305.32" width="2.80" height="2.80" fill="#7a4638"/><rect x="95.60" y="305.32" width="2.80" height="2.80" fill="#7a4638"/><rect x="99.86" y="305.32" width="2.80" height="2.80" fill="#7a4638"/><rect x="104.12" y="305.32" width="2.80" height="2.80" fill="#7a4638"/><rect x="108.39" y="304.89" width="2.80" height="2.80" fill="#7a4638"/><rect x="112.65" y="304.89" width="2.80" height="2.80" fill="#7a4638"/><rect x="116.92" y="304.89" width="2.80" height="2.80" fill="#7a4638"/><rect x="121.18" y="304.89" width="2.80" height="2.80" fill="#7a4638"/><rect x="125.44" y="304.89" width="2.80" height="2.80" fill="#7a4638"/><rect x="129.71" y="304.89" width="2.80" height="2.80" fill="#7a4638"/><rect x="133.97" y="307.88" width="2.80" height="2.80" fill="#7a4638"/><rect x="138.24" y="307.67" width="2.80" height="2.80" fill="#7a4638"/><rect x="142.50" y="307.45" width="2.80" height="2.80" fill="#7a4638"/><rect x="146.76" y="307.45" width="2.80" height="2.80" fill="#7a4638"/><rect x="151.03" y="307.45" width="2.80" height="2.80" fill="#7a4638"/><rect x="155.29" y="309.59" width="2.80" height="2.80" fill="#7a4638"/><rect x="159.56" y="309.59" width="2.80" height="2.80" fill="#7a4638"/><rect x="163.82" y="309.59" width="2.80" height="2.80" fill="#7a4638"/><rect x="168.08" y="309.59" width="2.80" height="2.80" fill="#7a4638"/><rect x="172.35" y="309.59" width="2.80" height="2.80" fill="#7a4638"/><rect x="176.61" y="309.59" width="2.80" height="2.80" fill="#7a4638"/><rect x="180.88" y="312.58" width="2.80" height="2.80" fill="#7a4638"/><rect x="185.14" y="314.71" width="2.80" height="2.80" fill="#7a4638"/><rect x="189.40" y="316.85" width="2.80" height="2.80" fill="#7a4638"/><rect x="193.67" y="317.92" width="2.80" height="2.80" fill="#7a4638"/><rect x="197.93" y="318.99" width="2.80" height="2.80" fill="#7a4638"/><rect x="202.20" y="323.04" width="2.80" height="2.80" fill="#7a4638"/><rect x="206.46" y="333.08" width="2.80" height="2.80" fill="#7a4638"/><rect x="210.72" y="386.06" width="2.80" height="2.80" fill="#7a4638"/><rect x="214.99" y="392.46" width="2.80" height="2.80" fill="#7a4638"/><rect x="219.25" y="397.16" width="2.80" height="2.80" fill="#7a4638"/><rect x="223.52" y="395.03" width="2.80" height="2.80" fill="#7a4638"/><rect x="227.78" y="395.03" width="2.80" height="2.80" fill="#7a4638"/><rect x="232.04" y="395.03" width="2.80" height="2.80" fill="#7a4638"/><rect x="236.31" y="395.03" width="2.80" height="2.80" fill="#7a4638"/><rect x="240.57" y="395.03" width="2.80" height="2.80" fill="#7a4638"/><rect x="244.84" y="395.03" width="2.80" height="2.80" fill="#7a4638"/><rect x="249.10" y="395.03" width="2.80" height="2.80" fill="#7a4638"/></g>
<path d="M37.30 306.29L41.56 306.29L45.83 306.29L50.09 306.72L54.36 306.72L58.62 306.72L62.88 306.72L67.15 306.72L71.41 306.72L75.68 309.28L79.94 309.21L84.20 309.14L88.47 309.07L92.73 308.99L97.00 308.92L101.26 308.85L105.52 308.32L109.79 307.78L114.05 310.99L118.32 310.99L122.58 310.99L126.84 310.99L131.11 314.41L135.37 312.91L139.64 311.42L143.90 315.26L148.16 313.98L152.43 312.70L156.69 315.26L160.96 315.26L165.22 315.26L169.48 315.26L173.75 313.76L178.01 312.27L182.28 315.26L186.54 317.29L190.80 319.32L195.07 320.39L199.33 321.45L203.60 325.30L207.86 338.76L212.12 387.88L216.39 402.84L220.65 407.11L224.92 408.18L229.18 402.84L233.44 408.18L237.71 406.25L241.97 400.91L246.24 405.40L250.50 405.40" fill="none" stroke="#72483c" stroke-width="1.15" stroke-linejoin="round"/>
<g><rect x="35.80" y="304.79" width="3.00" height="3.00" fill="#72483c"/><rect x="40.06" y="304.79" width="3.00" height="3.00" fill="#72483c"/><rect x="44.33" y="304.79" width="3.00" height="3.00" fill="#72483c"/><rect x="48.59" y="305.22" width="3.00" height="3.00" fill="#72483c"/><rect x="52.86" y="305.22" width="3.00" height="3.00" fill="#72483c"/><rect x="57.12" y="305.22" width="3.00" height="3.00" fill="#72483c"/><rect x="61.38" y="305.22" width="3.00" height="3.00" fill="#72483c"/><rect x="65.65" y="305.22" width="3.00" height="3.00" fill="#72483c"/><rect x="69.91" y="305.22" width="3.00" height="3.00" fill="#72483c"/><rect x="74.18" y="307.78" width="3.00" height="3.00" fill="#72483c"/><rect x="78.44" y="307.71" width="3.00" height="3.00" fill="#72483c"/><rect x="82.70" y="307.64" width="3.00" height="3.00" fill="#72483c"/><rect x="86.97" y="307.57" width="3.00" height="3.00" fill="#72483c"/><rect x="91.23" y="307.49" width="3.00" height="3.00" fill="#72483c"/><rect x="95.50" y="307.42" width="3.00" height="3.00" fill="#72483c"/><rect x="99.76" y="307.35" width="3.00" height="3.00" fill="#72483c"/><rect x="104.02" y="306.82" width="3.00" height="3.00" fill="#72483c"/><rect x="108.29" y="306.28" width="3.00" height="3.00" fill="#72483c"/><rect x="112.55" y="309.49" width="3.00" height="3.00" fill="#72483c"/><rect x="116.82" y="309.49" width="3.00" height="3.00" fill="#72483c"/><rect x="121.08" y="309.49" width="3.00" height="3.00" fill="#72483c"/><rect x="125.34" y="309.49" width="3.00" height="3.00" fill="#72483c"/><rect x="129.61" y="312.91" width="3.00" height="3.00" fill="#72483c"/><rect x="133.87" y="311.41" width="3.00" height="3.00" fill="#72483c"/><rect x="138.14" y="309.92" width="3.00" height="3.00" fill="#72483c"/><rect x="142.40" y="313.76" width="3.00" height="3.00" fill="#72483c"/><rect x="146.66" y="312.48" width="3.00" height="3.00" fill="#72483c"/><rect x="150.93" y="311.20" width="3.00" height="3.00" fill="#72483c"/><rect x="155.19" y="313.76" width="3.00" height="3.00" fill="#72483c"/><rect x="159.46" y="313.76" width="3.00" height="3.00" fill="#72483c"/><rect x="163.72" y="313.76" width="3.00" height="3.00" fill="#72483c"/><rect x="167.98" y="313.76" width="3.00" height="3.00" fill="#72483c"/><rect x="172.25" y="312.26" width="3.00" height="3.00" fill="#72483c"/><rect x="176.51" y="310.77" width="3.00" height="3.00" fill="#72483c"/><rect x="180.78" y="313.76" width="3.00" height="3.00" fill="#72483c"/><rect x="185.04" y="315.79" width="3.00" height="3.00" fill="#72483c"/><rect x="189.30" y="317.82" width="3.00" height="3.00" fill="#72483c"/><rect x="193.57" y="318.89" width="3.00" height="3.00" fill="#72483c"/><rect x="197.83" y="319.95" width="3.00" height="3.00" fill="#72483c"/><rect x="202.10" y="323.80" width="3.00" height="3.00" fill="#72483c"/><rect x="206.36" y="337.26" width="3.00" height="3.00" fill="#72483c"/><rect x="210.62" y="386.38" width="3.00" height="3.00" fill="#72483c"/><rect x="214.89" y="401.34" width="3.00" height="3.00" fill="#72483c"/><rect x="219.15" y="405.61" width="3.00" height="3.00" fill="#72483c"/><rect x="223.42" y="406.68" width="3.00" height="3.00" fill="#72483c"/><rect x="227.68" y="401.34" width="3.00" height="3.00" fill="#72483c"/><rect x="231.94" y="406.68" width="3.00" height="3.00" fill="#72483c"/><rect x="236.21" y="404.75" width="3.00" height="3.00" fill="#72483c"/><rect x="240.47" y="399.41" width="3.00" height="3.00" fill="#72483c"/><rect x="244.74" y="403.90" width="3.00" height="3.00" fill="#72483c"/><rect x="249.00" y="403.90" width="3.00" height="3.00" fill="#72483c"/></g>
<path d="M37.30 315.26L41.56 315.26L45.83 315.26L50.09 315.26L54.36 315.26L58.62 317.40L62.88 317.40L67.15 319.53L71.41 319.53L75.68 319.53L79.94 322.10L84.20 322.10L88.47 324.44L92.73 321.45L97.00 322.42L101.26 323.38L105.52 324.34L109.79 325.30L114.05 326.30L118.32 327.29L122.58 328.29L126.84 326.37L131.11 328.29L135.37 325.94L139.64 328.40L143.90 330.85L148.16 330.32L152.43 329.78L156.69 331.39L160.96 332.99L165.22 332.35L169.48 334.91L173.75 332.35L178.01 336.41L182.28 336.83L186.54 339.40L190.80 336.83L195.07 338.97L199.33 338.97L203.60 349.44L207.86 382.33L212.12 422.27L216.39 415.65L220.65 417.79L224.92 419.71L229.18 422.27L233.44 417.79L237.71 417.79L241.97 417.79L246.24 415.65L250.50 419.92" fill="none" stroke="#3a2e2a" stroke-width="1.15" stroke-linejoin="round"/>
<g><path d="M35.49 315.26L37.30 313.45L39.11 315.26L37.30 317.07Z" fill="#3a2e2a"/><path d="M39.75 315.26L41.56 313.45L43.38 315.26L41.56 317.07Z" fill="#3a2e2a"/><path d="M44.02 315.26L45.83 313.45L47.64 315.26L45.83 317.07Z" fill="#3a2e2a"/><path d="M48.28 315.26L50.09 313.45L51.90 315.26L50.09 317.07Z" fill="#3a2e2a"/><path d="M52.54 315.26L54.36 313.45L56.17 315.26L54.36 317.07Z" fill="#3a2e2a"/><path d="M56.81 317.40L58.62 315.58L60.43 317.40L58.62 319.21Z" fill="#3a2e2a"/><path d="M61.07 317.40L62.88 315.58L64.70 317.40L62.88 319.21Z" fill="#3a2e2a"/><path d="M65.34 319.53L67.15 317.72L68.96 319.53L67.15 321.34Z" fill="#3a2e2a"/><path d="M69.60 319.53L71.41 317.72L73.22 319.53L71.41 321.34Z" fill="#3a2e2a"/><path d="M73.86 319.53L75.68 317.72L77.49 319.53L75.68 321.34Z" fill="#3a2e2a"/><path d="M78.13 322.10L79.94 320.28L81.75 322.10L79.94 323.91Z" fill="#3a2e2a"/><path d="M82.39 322.10L84.20 320.28L86.02 322.10L84.20 323.91Z" fill="#3a2e2a"/><path d="M86.66 324.44L88.47 322.63L90.28 324.44L88.47 326.26Z" fill="#3a2e2a"/><path d="M90.92 321.45L92.73 319.64L94.54 321.45L92.73 323.27Z" fill="#3a2e2a"/><path d="M95.18 322.42L97.00 320.60L98.81 322.42L97.00 324.23Z" fill="#3a2e2a"/><path d="M99.45 323.38L101.26 321.56L103.07 323.38L101.26 325.19Z" fill="#3a2e2a"/><path d="M103.71 324.34L105.52 322.53L107.34 324.34L105.52 326.15Z" fill="#3a2e2a"/><path d="M107.98 325.30L109.79 323.49L111.60 325.30L109.79 327.11Z" fill="#3a2e2a"/><path d="M112.24 326.30L114.05 324.48L115.86 326.30L114.05 328.11Z" fill="#3a2e2a"/><path d="M116.50 327.29L118.32 325.48L120.13 327.29L118.32 329.11Z" fill="#3a2e2a"/><path d="M120.77 328.29L122.58 326.48L124.39 328.29L122.58 330.10Z" fill="#3a2e2a"/><path d="M125.03 326.37L126.84 324.55L128.66 326.37L126.84 328.18Z" fill="#3a2e2a"/><path d="M129.30 328.29L131.11 326.48L132.92 328.29L131.11 330.10Z" fill="#3a2e2a"/><path d="M133.56 325.94L135.37 324.13L137.18 325.94L135.37 327.75Z" fill="#3a2e2a"/><path d="M137.82 328.40L139.64 326.58L141.45 328.40L139.64 330.21Z" fill="#3a2e2a"/><path d="M142.09 330.85L143.90 329.04L145.71 330.85L143.90 332.67Z" fill="#3a2e2a"/><path d="M146.35 330.32L148.16 328.51L149.98 330.32L148.16 332.13Z" fill="#3a2e2a"/><path d="M150.62 329.78L152.43 327.97L154.24 329.78L152.43 331.60Z" fill="#3a2e2a"/><path d="M154.88 331.39L156.69 329.57L158.50 331.39L156.69 333.20Z" fill="#3a2e2a"/><path d="M159.14 332.99L160.96 331.18L162.77 332.99L160.96 334.80Z" fill="#3a2e2a"/><path d="M163.41 332.35L165.22 330.54L167.03 332.35L165.22 334.16Z" fill="#3a2e2a"/><path d="M167.67 334.91L169.48 333.10L171.30 334.91L169.48 336.72Z" fill="#3a2e2a"/><path d="M171.94 332.35L173.75 330.54L175.56 332.35L173.75 334.16Z" fill="#3a2e2a"/><path d="M176.20 336.41L178.01 334.59L179.82 336.41L178.01 338.22Z" fill="#3a2e2a"/><path d="M180.46 336.83L182.28 335.02L184.09 336.83L182.28 338.65Z" fill="#3a2e2a"/><path d="M184.73 339.40L186.54 337.58L188.35 339.40L186.54 341.21Z" fill="#3a2e2a"/><path d="M188.99 336.83L190.80 335.02L192.62 336.83L190.80 338.65Z" fill="#3a2e2a"/><path d="M193.26 338.97L195.07 337.16L196.88 338.97L195.07 340.78Z" fill="#3a2e2a"/><path d="M197.52 338.97L199.33 337.16L201.14 338.97L199.33 340.78Z" fill="#3a2e2a"/><path d="M201.78 349.44L203.60 347.62L205.41 349.44L203.60 351.25Z" fill="#3a2e2a"/><path d="M206.05 382.33L207.86 380.52L209.67 382.33L207.86 384.14Z" fill="#3a2e2a"/><path d="M210.31 422.27L212.12 420.46L213.94 422.27L212.12 424.09Z" fill="#3a2e2a"/><path d="M214.58 415.65L216.39 413.84L218.20 415.65L216.39 417.46Z" fill="#3a2e2a"/><path d="M218.84 417.79L220.65 415.98L222.46 417.79L220.65 419.60Z" fill="#3a2e2a"/><path d="M223.10 419.71L224.92 417.90L226.73 419.71L224.92 421.52Z" fill="#3a2e2a"/><path d="M227.37 422.27L229.18 420.46L230.99 422.27L229.18 424.09Z" fill="#3a2e2a"/><path d="M231.63 417.79L233.44 415.98L235.26 417.79L233.44 419.60Z" fill="#3a2e2a"/><path d="M235.90 417.79L237.71 415.98L239.52 417.79L237.71 419.60Z" fill="#3a2e2a"/><path d="M240.16 417.79L241.97 415.98L243.78 417.79L241.97 419.60Z" fill="#3a2e2a"/><path d="M244.42 415.65L246.24 413.84L248.05 415.65L246.24 417.46Z" fill="#3a2e2a"/><path d="M248.69 419.92L250.50 418.11L252.31 419.92L250.50 421.74Z" fill="#3a2e2a"/></g>
<g font-family="Liberation Sans, Arial, sans-serif" font-size="8.3" fill="#151515">
<path d="M57.0 413.00H77.5" stroke="#ee3a24" stroke-width="1.25"/>
<circle cx="67.25" cy="413.00" r="1.55" fill="#ee3a24"/>
<text x="82.2" y="416.00">1 <tspan font-family="Liberation Serif, Times New Roman, serif" font-size="9" stroke="none">μ</tspan>M</text>
<path d="M57.0 425.45H77.5" stroke="#e2452c" stroke-width="1.25"/>
<circle cx="67.25" cy="425.45" r="1.65" fill="#e2452c"/>
<text x="82.2" y="428.45">2 <tspan font-family="Liberation Serif, Times New Roman, serif" font-size="9" stroke="none">μ</tspan>M</text>
<path d="M57.0 437.90H77.5" stroke="#c54a30" stroke-width="1.25"/>
<path d="M65.40 436.42L69.10 436.42L67.25 439.75Z" fill="#c54a30"/>
<text x="82.2" y="440.90">4 <tspan font-family="Liberation Serif, Times New Roman, serif" font-size="9" stroke="none">μ</tspan>M</text>
<path d="M57.0 450.35H77.5" stroke="#a8543c" stroke-width="1.25"/>
<path d="M65.45 451.79L69.05 451.79L67.25 448.55Z" fill="#a8543c"/>
<text x="82.2" y="453.35">6 <tspan font-family="Liberation Serif, Times New Roman, serif" font-size="9" stroke="none">μ</tspan>M</text>
<path d="M57.0 462.80H77.5" stroke="#7a4638" stroke-width="1.25"/>
<rect x="65.85" y="461.40" width="2.80" height="2.80" fill="#7a4638"/>
<text x="82.2" y="465.80">8 <tspan font-family="Liberation Serif, Times New Roman, serif" font-size="9" stroke="none">μ</tspan>M</text>
<path d="M57.0 475.25H77.5" stroke="#72483c" stroke-width="1.25"/>
<rect x="65.75" y="473.75" width="3.00" height="3.00" fill="#72483c"/>
<text x="82.2" y="478.25">10 <tspan font-family="Liberation Serif, Times New Roman, serif" font-size="9" stroke="none">μ</tspan>M</text>
<path d="M57.0 487.70H77.5" stroke="#3a2e2a" stroke-width="1.25"/>
<path d="M65.44 487.70L67.25 485.89L69.06 487.70L67.25 489.51Z" fill="#3a2e2a"/>
<text x="82.2" y="490.70">12 <tspan font-family="Liberation Serif, Times New Roman, serif" font-size="9" stroke="none">μ</tspan>M</text>
</g>
<text x="138.4" y="553.1" text-anchor="middle" font-family="Liberation Serif, Times New Roman, serif" font-size="12.6" fill="#111">(<tspan font-weight="bold">c</tspan>)</text>
</g>
<g>
<path d="M327.7 294.2H541.5" fill="none" stroke="#838383" stroke-width="1.5"/>
<path d="M541.5 293.45V507.5" fill="none" stroke="#6c6c6c" stroke-width="1.3"/>
<path d="M327.7 294.2V507.5H541.5" fill="none" stroke="#666" stroke-width="1.1"/>
<path d="M327.70 507.5v3.1M336.25 507.5v1.6M344.80 507.5v1.6M353.36 507.5v1.6M361.91 507.5v1.6M370.46 507.5v3.1M379.01 507.5v1.6M387.56 507.5v1.6M396.12 507.5v1.6M404.67 507.5v1.6M413.22 507.5v3.1M421.77 507.5v1.6M430.32 507.5v1.6M438.88 507.5v1.6M447.43 507.5v1.6M455.98 507.5v3.1M464.53 507.5v1.6M473.08 507.5v1.6M481.64 507.5v1.6M490.19 507.5v1.6M498.74 507.5v3.1M507.29 507.5v1.6M515.84 507.5v1.6M524.40 507.5v1.6M532.95 507.5v1.6M541.50 507.5v3.1M327.7 503.94h-1.6M327.7 496.83h-1.6M327.7 489.73h-3.1M327.7 482.62h-1.6M327.7 475.50h-1.6M327.7 468.39h-1.6M327.7 461.28h-1.6M327.7 454.18h-3.1M327.7 447.06h-1.6M327.7 439.95h-1.6M327.7 432.85h-1.6M327.7 425.74h-1.6M327.7 418.62h-3.1M327.7 411.51h-1.6M327.7 404.40h-1.6M327.7 397.30h-1.6M327.7 390.19h-1.6M327.7 383.07h-3.1M327.7 375.97h-1.6M327.7 368.86h-1.6M327.7 361.75h-1.6M327.7 354.63h-1.6M327.7 347.52h-3.1M327.7 340.41h-1.6M327.7 333.30h-1.6M327.7 326.19h-1.6M327.7 319.08h-1.6M327.7 311.98h-3.1M327.7 304.87h-1.6M327.7 297.75h-1.6" fill="none" stroke="#5f5f5f" stroke-width="0.9"/>
<g font-family="Liberation Sans, Arial, sans-serif" font-size="8.55" fill="#151515" stroke="#151515" stroke-width="0.2">
<text x="327.70" y="523.10" text-anchor="middle">0.0</text>
<text x="370.46" y="523.10" text-anchor="middle">0.5</text>
<text x="413.22" y="523.10" text-anchor="middle">1.0</text>
<text x="455.98" y="523.10" text-anchor="middle">1.5</text>
<text x="498.74" y="523.10" text-anchor="middle">2.0</text>
<text x="541.50" y="523.10" text-anchor="middle">2.5</text>
<text x="320.50" y="492.83" text-anchor="end">60</text>
<text x="320.50" y="457.28" text-anchor="end">80</text>
<text x="320.50" y="421.73" text-anchor="end">100</text>
<text x="320.50" y="386.18" text-anchor="end">120</text>
<text x="320.50" y="350.62" text-anchor="end">140</text>
<text x="320.50" y="315.08" text-anchor="end">160</text>
</g>
<text x="542.50" y="533.70" text-anchor="end" font-family="Liberation Sans, Arial, sans-serif" font-weight="bold" font-size="8.7" fill="#0a0a0a">Titrant volume, mL</text>
<text transform="translate(302 388.7) rotate(-90)" text-anchor="middle" font-family="Liberation Sans, Arial, sans-serif" font-weight="bold" font-size="8.54" fill="#0a0a0a">Hue, degree</text>
<path d="M327.70 326.73L331.98 326.94L336.25 326.85L340.53 326.65L344.80 326.45L349.08 326.70L353.36 326.67L357.63 326.56L361.91 326.24L366.18 326.52L370.46 326.16L374.74 326.15L379.01 326.39L383.29 326.13L387.56 326.13L391.84 326.11L396.12 325.75L400.39 326.19L404.67 326.18L408.94 325.65L413.22 325.84L417.50 325.82L421.77 325.86L426.05 325.72L430.32 325.63L434.60 325.24L438.88 325.57L443.15 325.49L447.43 325.23L451.70 325.17L455.98 325.13L460.26 324.89L464.53 324.95L468.81 325.21L473.08 325.29L477.36 324.95L481.64 324.87L485.91 325.38L490.19 325.00L494.46 324.93L498.74 325.13L503.02 326.19L507.29 379.16L511.57 386.10L515.84 390.19L520.12 394.10L524.40 397.12L528.67 392.14L532.95 397.12L537.22 395.16L541.50 392.14" fill="none" stroke="#ffc800" stroke-width="1.15" stroke-linejoin="round"/>
<g><circle cx="327.70" cy="326.73" r="1.55" fill="#ffc800"/><circle cx="331.98" cy="326.94" r="1.55" fill="#ffc800"/><circle cx="336.25" cy="326.85" r="1.55" fill="#ffc800"/><circle cx="340.53" cy="326.65" r="1.55" fill="#ffc800"/><circle cx="344.80" cy="326.45" r="1.55" fill="#ffc800"/><circle cx="349.08" cy="326.70" r="1.55" fill="#ffc800"/><circle cx="353.36" cy="326.67" r="1.55" fill="#ffc800"/><circle cx="357.63" cy="326.56" r="1.55" fill="#ffc800"/><circle cx="361.91" cy="326.24" r="1.55" fill="#ffc800"/><circle cx="366.18" cy="326.52" r="1.55" fill="#ffc800"/><circle cx="370.46" cy="326.16" r="1.55" fill="#ffc800"/><circle cx="374.74" cy="326.15" r="1.55" fill="#ffc800"/><circle cx="379.01" cy="326.39" r="1.55" fill="#ffc800"/><circle cx="383.29" cy="326.13" r="1.55" fill="#ffc800"/><circle cx="387.56" cy="326.13" r="1.55" fill="#ffc800"/><circle cx="391.84" cy="326.11" r="1.55" fill="#ffc800"/><circle cx="396.12" cy="325.75" r="1.55" fill="#ffc800"/><circle cx="400.39" cy="326.19" r="1.55" fill="#ffc800"/><circle cx="404.67" cy="326.18" r="1.55" fill="#ffc800"/><circle cx="408.94" cy="325.65" r="1.55" fill="#ffc800"/><circle cx="413.22" cy="325.84" r="1.55" fill="#ffc800"/><circle cx="417.50" cy="325.82" r="1.55" fill="#ffc800"/><circle cx="421.77" cy="325.86" r="1.55" fill="#ffc800"/><circle cx="426.05" cy="325.72" r="1.55" fill="#ffc800"/><circle cx="430.32" cy="325.63" r="1.55" fill="#ffc800"/><circle cx="434.60" cy="325.24" r="1.55" fill="#ffc800"/><circle cx="438.88" cy="325.57" r="1.55" fill="#ffc800"/><circle cx="443.15" cy="325.49" r="1.55" fill="#ffc800"/><circle cx="447.43" cy="325.23" r="1.55" fill="#ffc800"/><circle cx="451.70" cy="325.17" r="1.55" fill="#ffc800"/><circle cx="455.98" cy="325.13" r="1.55" fill="#ffc800"/><circle cx="460.26" cy="324.89" r="1.55" fill="#ffc800"/><circle cx="464.53" cy="324.95" r="1.55" fill="#ffc800"/><circle cx="468.81" cy="325.21" r="1.55" fill="#ffc800"/><circle cx="473.08" cy="325.29" r="1.55" fill="#ffc800"/><circle cx="477.36" cy="324.95" r="1.55" fill="#ffc800"/><circle cx="481.64" cy="324.87" r="1.55" fill="#ffc800"/><circle cx="485.91" cy="325.38" r="1.55" fill="#ffc800"/><circle cx="490.19" cy="325.00" r="1.55" fill="#ffc800"/><circle cx="494.46" cy="324.93" r="1.55" fill="#ffc800"/><circle cx="498.74" cy="325.13" r="1.55" fill="#ffc800"/><circle cx="503.02" cy="326.19" r="1.55" fill="#ffc800"/><circle cx="507.29" cy="379.16" r="1.55" fill="#ffc800"/><circle cx="511.57" cy="386.10" r="1.55" fill="#ffc800"/><circle cx="515.84" cy="390.19" r="1.55" fill="#ffc800"/><circle cx="520.12" cy="394.10" r="1.55" fill="#ffc800"/><circle cx="524.40" cy="397.12" r="1.55" fill="#ffc800"/><circle cx="528.67" cy="392.14" r="1.55" fill="#ffc800"/><circle cx="532.95" cy="397.12" r="1.55" fill="#ffc800"/><circle cx="537.22" cy="395.16" r="1.55" fill="#ffc800"/><circle cx="541.50" cy="392.14" r="1.55" fill="#ffc800"/></g>
<path d="M327.70 331.53L331.98 331.73L336.25 331.63L340.53 331.55L344.80 331.21L349.08 331.40L353.36 331.25L357.63 331.55L361.91 331.31L366.18 331.10L370.46 331.25L374.74 331.00L379.01 331.00L383.29 331.25L387.56 331.42L391.84 330.99L396.12 331.30L400.39 331.34L404.67 330.92L408.94 330.84L413.22 330.99L417.50 330.81L421.77 330.73L426.05 331.13L430.32 331.18L434.60 331.15L438.88 330.69L443.15 331.14L447.43 331.10L451.70 331.17L455.98 331.15L460.26 331.14L464.53 330.97L468.81 331.06L473.08 330.97L477.36 330.63L481.64 331.03L485.91 330.68L490.19 330.71L494.46 330.79L498.74 330.82L503.02 333.84L507.29 400.14L511.57 405.12L515.84 407.07L520.12 407.07L524.40 410.09L528.67 407.07L532.95 408.14L537.22 410.09L541.50 412.40" fill="none" stroke="#ffb400" stroke-width="1.15" stroke-linejoin="round"/>
<g><circle cx="327.70" cy="331.53" r="1.65" fill="#ffb400"/><circle cx="331.98" cy="331.73" r="1.65" fill="#ffb400"/><circle cx="336.25" cy="331.63" r="1.65" fill="#ffb400"/><circle cx="340.53" cy="331.55" r="1.65" fill="#ffb400"/><circle cx="344.80" cy="331.21" r="1.65" fill="#ffb400"/><circle cx="349.08" cy="331.40" r="1.65" fill="#ffb400"/><circle cx="353.36" cy="331.25" r="1.65" fill="#ffb400"/><circle cx="357.63" cy="331.55" r="1.65" fill="#ffb400"/><circle cx="361.91" cy="331.31" r="1.65" fill="#ffb400"/><circle cx="366.18" cy="331.10" r="1.65" fill="#ffb400"/><circle cx="370.46" cy="331.25" r="1.65" fill="#ffb400"/><circle cx="374.74" cy="331.00" r="1.65" fill="#ffb400"/><circle cx="379.01" cy="331.00" r="1.65" fill="#ffb400"/><circle cx="383.29" cy="331.25" r="1.65" fill="#ffb400"/><circle cx="387.56" cy="331.42" r="1.65" fill="#ffb400"/><circle cx="391.84" cy="330.99" r="1.65" fill="#ffb400"/><circle cx="396.12" cy="331.30" r="1.65" fill="#ffb400"/><circle cx="400.39" cy="331.34" r="1.65" fill="#ffb400"/><circle cx="404.67" cy="330.92" r="1.65" fill="#ffb400"/><circle cx="408.94" cy="330.84" r="1.65" fill="#ffb400"/><circle cx="413.22" cy="330.99" r="1.65" fill="#ffb400"/><circle cx="417.50" cy="330.81" r="1.65" fill="#ffb400"/><circle cx="421.77" cy="330.73" r="1.65" fill="#ffb400"/><circle cx="426.05" cy="331.13" r="1.65" fill="#ffb400"/><circle cx="430.32" cy="331.18" r="1.65" fill="#ffb400"/><circle cx="434.60" cy="331.15" r="1.65" fill="#ffb400"/><circle cx="438.88" cy="330.69" r="1.65" fill="#ffb400"/><circle cx="443.15" cy="331.14" r="1.65" fill="#ffb400"/><circle cx="447.43" cy="331.10" r="1.65" fill="#ffb400"/><circle cx="451.70" cy="331.17" r="1.65" fill="#ffb400"/><circle cx="455.98" cy="331.15" r="1.65" fill="#ffb400"/><circle cx="460.26" cy="331.14" r="1.65" fill="#ffb400"/><circle cx="464.53" cy="330.97" r="1.65" fill="#ffb400"/><circle cx="468.81" cy="331.06" r="1.65" fill="#ffb400"/><circle cx="473.08" cy="330.97" r="1.65" fill="#ffb400"/><circle cx="477.36" cy="330.63" r="1.65" fill="#ffb400"/><circle cx="481.64" cy="331.03" r="1.65" fill="#ffb400"/><circle cx="485.91" cy="330.68" r="1.65" fill="#ffb400"/><circle cx="490.19" cy="330.71" r="1.65" fill="#ffb400"/><circle cx="494.46" cy="330.79" r="1.65" fill="#ffb400"/><circle cx="498.74" cy="330.82" r="1.65" fill="#ffb400"/><circle cx="503.02" cy="333.84" r="1.65" fill="#ffb400"/><circle cx="507.29" cy="400.14" r="1.65" fill="#ffb400"/><circle cx="511.57" cy="405.12" r="1.65" fill="#ffb400"/><circle cx="515.84" cy="407.07" r="1.65" fill="#ffb400"/><circle cx="520.12" cy="407.07" r="1.65" fill="#ffb400"/><circle cx="524.40" cy="410.09" r="1.65" fill="#ffb400"/><circle cx="528.67" cy="407.07" r="1.65" fill="#ffb400"/><circle cx="532.95" cy="408.14" r="1.65" fill="#ffb400"/><circle cx="537.22" cy="410.09" r="1.65" fill="#ffb400"/><circle cx="541.50" cy="412.40" r="1.65" fill="#ffb400"/></g>
<path d="M327.70 366.72L331.98 366.70L336.25 366.69L340.53 366.55L344.80 367.19L349.08 366.84L353.36 366.64L357.63 366.68L361.91 367.51L366.18 367.07L370.46 367.16L374.74 367.34L379.01 366.90L383.29 367.43L387.56 367.57L391.84 367.10L396.12 367.48L400.39 367.89L404.67 367.94L408.94 367.80L413.22 368.33L417.50 367.79L421.77 367.71L426.05 368.10L430.32 367.71L434.60 367.68L438.88 368.12L443.15 368.02L447.43 368.66L451.70 368.76L455.98 367.82L460.26 368.60L464.53 368.71L468.81 368.02L473.08 368.22L477.36 369.18L481.64 369.43L485.91 369.98L490.19 370.41L494.46 370.63L498.74 372.05L503.02 406.18L507.29 424.14L511.57 424.85L515.84 419.69L520.12 425.02L524.40 424.31L528.67 424.19L532.95 424.08L537.22 423.96L541.50 425.20" fill="none" stroke="#ff9a14" stroke-width="1.15" stroke-linejoin="round"/>
<g><path d="M325.85 365.24L329.55 365.24L327.70 368.57Z" fill="#ff9a14"/><path d="M330.13 365.22L333.83 365.22L331.98 368.55Z" fill="#ff9a14"/><path d="M334.40 365.21L338.10 365.21L336.25 368.54Z" fill="#ff9a14"/><path d="M338.68 365.07L342.38 365.07L340.53 368.40Z" fill="#ff9a14"/><path d="M342.95 365.71L346.65 365.71L344.80 369.04Z" fill="#ff9a14"/><path d="M347.23 365.36L350.93 365.36L349.08 368.69Z" fill="#ff9a14"/><path d="M351.51 365.16L355.21 365.16L353.36 368.49Z" fill="#ff9a14"/><path d="M355.78 365.20L359.48 365.20L357.63 368.53Z" fill="#ff9a14"/><path d="M360.06 366.03L363.76 366.03L361.91 369.36Z" fill="#ff9a14"/><path d="M364.33 365.59L368.03 365.59L366.18 368.92Z" fill="#ff9a14"/><path d="M368.61 365.68L372.31 365.68L370.46 369.01Z" fill="#ff9a14"/><path d="M372.89 365.86L376.59 365.86L374.74 369.19Z" fill="#ff9a14"/><path d="M377.16 365.42L380.86 365.42L379.01 368.75Z" fill="#ff9a14"/><path d="M381.44 365.95L385.14 365.95L383.29 369.28Z" fill="#ff9a14"/><path d="M385.71 366.09L389.41 366.09L387.56 369.42Z" fill="#ff9a14"/><path d="M389.99 365.62L393.69 365.62L391.84 368.95Z" fill="#ff9a14"/><path d="M394.27 366.00L397.97 366.00L396.12 369.33Z" fill="#ff9a14"/><path d="M398.54 366.41L402.24 366.41L400.39 369.74Z" fill="#ff9a14"/><path d="M402.82 366.46L406.52 366.46L404.67 369.79Z" fill="#ff9a14"/><path d="M407.09 366.32L410.79 366.32L408.94 369.65Z" fill="#ff9a14"/><path d="M411.37 366.85L415.07 366.85L413.22 370.18Z" fill="#ff9a14"/><path d="M415.65 366.31L419.35 366.31L417.50 369.64Z" fill="#ff9a14"/><path d="M419.92 366.23L423.62 366.23L421.77 369.56Z" fill="#ff9a14"/><path d="M424.20 366.62L427.90 366.62L426.05 369.95Z" fill="#ff9a14"/><path d="M428.47 366.23L432.17 366.23L430.32 369.56Z" fill="#ff9a14"/><path d="M432.75 366.20L436.45 366.20L434.60 369.53Z" fill="#ff9a14"/><path d="M437.03 366.64L440.73 366.64L438.88 369.97Z" fill="#ff9a14"/><path d="M441.30 366.54L445.00 366.54L443.15 369.87Z" fill="#ff9a14"/><path d="M445.58 367.18L449.28 367.18L447.43 370.51Z" fill="#ff9a14"/><path d="M449.85 367.28L453.55 367.28L451.70 370.61Z" fill="#ff9a14"/><path d="M454.13 366.34L457.83 366.34L455.98 369.67Z" fill="#ff9a14"/><path d="M458.41 367.12L462.11 367.12L460.26 370.45Z" fill="#ff9a14"/><path d="M462.68 367.23L466.38 367.23L464.53 370.56Z" fill="#ff9a14"/><path d="M466.96 366.54L470.66 366.54L468.81 369.87Z" fill="#ff9a14"/><path d="M471.23 366.74L474.93 366.74L473.08 370.07Z" fill="#ff9a14"/><path d="M475.51 367.70L479.21 367.70L477.36 371.03Z" fill="#ff9a14"/><path d="M479.79 367.95L483.49 367.95L481.64 371.28Z" fill="#ff9a14"/><path d="M484.06 368.50L487.76 368.50L485.91 371.83Z" fill="#ff9a14"/><path d="M488.34 368.93L492.04 368.93L490.19 372.26Z" fill="#ff9a14"/><path d="M492.61 369.15L496.31 369.15L494.46 372.48Z" fill="#ff9a14"/><path d="M496.89 370.57L500.59 370.57L498.74 373.90Z" fill="#ff9a14"/><path d="M501.17 404.70L504.87 404.70L503.02 408.03Z" fill="#ff9a14"/><path d="M505.44 422.66L509.14 422.66L507.29 425.99Z" fill="#ff9a14"/><path d="M509.72 423.37L513.42 423.37L511.57 426.70Z" fill="#ff9a14"/><path d="M513.99 418.21L517.69 418.21L515.84 421.54Z" fill="#ff9a14"/><path d="M518.27 423.54L521.97 423.54L520.12 426.87Z" fill="#ff9a14"/><path d="M522.55 422.83L526.25 422.83L524.40 426.16Z" fill="#ff9a14"/><path d="M526.82 422.71L530.52 422.71L528.67 426.04Z" fill="#ff9a14"/><path d="M531.10 422.60L534.80 422.60L532.95 425.93Z" fill="#ff9a14"/><path d="M535.37 422.48L539.07 422.48L537.22 425.81Z" fill="#ff9a14"/><path d="M539.65 423.72L543.35 423.72L541.50 427.05Z" fill="#ff9a14"/></g>
<path d="M327.70 380.76L331.98 381.12L336.25 381.45L340.53 381.57L344.80 381.90L349.08 382.72L353.36 381.60L357.63 381.30L361.91 381.56L366.18 381.05L370.46 381.73L374.74 381.97L379.01 382.32L383.29 381.99L387.56 382.49L391.84 382.48L396.12 382.23L400.39 382.17L404.67 382.32L408.94 383.14L413.22 383.29L417.50 383.20L421.77 383.00L426.05 382.81L430.32 382.97L434.60 382.94L438.88 383.47L443.15 383.60L447.43 384.14L451.70 384.29L455.98 384.58L460.26 384.40L464.53 384.50L468.81 384.71L473.08 385.08L477.36 385.36L481.64 385.95L485.91 386.10L490.19 389.12L494.46 392.14L498.74 396.05L503.02 418.09L507.29 425.02L511.57 426.62L515.84 426.80L520.12 426.98L524.40 427.16L528.67 427.33L532.95 427.51L537.22 427.69L541.50 427.87" fill="none" stroke="#ff8a28" stroke-width="1.15" stroke-linejoin="round"/>
<g><path d="M325.90 382.20L329.50 382.20L327.70 378.96Z" fill="#ff8a28"/><path d="M330.18 382.56L333.78 382.56L331.98 379.32Z" fill="#ff8a28"/><path d="M334.45 382.89L338.05 382.89L336.25 379.65Z" fill="#ff8a28"/><path d="M338.73 383.01L342.33 383.01L340.53 379.77Z" fill="#ff8a28"/><path d="M343.00 383.34L346.60 383.34L344.80 380.10Z" fill="#ff8a28"/><path d="M347.28 384.16L350.88 384.16L349.08 380.92Z" fill="#ff8a28"/><path d="M351.56 383.04L355.16 383.04L353.36 379.80Z" fill="#ff8a28"/><path d="M355.83 382.74L359.43 382.74L357.63 379.50Z" fill="#ff8a28"/><path d="M360.11 383.00L363.71 383.00L361.91 379.76Z" fill="#ff8a28"/><path d="M364.38 382.49L367.98 382.49L366.18 379.25Z" fill="#ff8a28"/><path d="M368.66 383.17L372.26 383.17L370.46 379.93Z" fill="#ff8a28"/><path d="M372.94 383.41L376.54 383.41L374.74 380.17Z" fill="#ff8a28"/><path d="M377.21 383.76L380.81 383.76L379.01 380.52Z" fill="#ff8a28"/><path d="M381.49 383.43L385.09 383.43L383.29 380.19Z" fill="#ff8a28"/><path d="M385.76 383.93L389.36 383.93L387.56 380.69Z" fill="#ff8a28"/><path d="M390.04 383.92L393.64 383.92L391.84 380.68Z" fill="#ff8a28"/><path d="M394.32 383.67L397.92 383.67L396.12 380.43Z" fill="#ff8a28"/><path d="M398.59 383.61L402.19 383.61L400.39 380.37Z" fill="#ff8a28"/><path d="M402.87 383.76L406.47 383.76L404.67 380.52Z" fill="#ff8a28"/><path d="M407.14 384.58L410.74 384.58L408.94 381.34Z" fill="#ff8a28"/><path d="M411.42 384.73L415.02 384.73L413.22 381.49Z" fill="#ff8a28"/><path d="M415.70 384.64L419.30 384.64L417.50 381.40Z" fill="#ff8a28"/><path d="M419.97 384.44L423.57 384.44L421.77 381.20Z" fill="#ff8a28"/><path d="M424.25 384.25L427.85 384.25L426.05 381.01Z" fill="#ff8a28"/><path d="M428.52 384.41L432.12 384.41L430.32 381.17Z" fill="#ff8a28"/><path d="M432.80 384.38L436.40 384.38L434.60 381.14Z" fill="#ff8a28"/><path d="M437.08 384.91L440.68 384.91L438.88 381.67Z" fill="#ff8a28"/><path d="M441.35 385.04L444.95 385.04L443.15 381.80Z" fill="#ff8a28"/><path d="M445.63 385.58L449.23 385.58L447.43 382.34Z" fill="#ff8a28"/><path d="M449.90 385.73L453.50 385.73L451.70 382.49Z" fill="#ff8a28"/><path d="M454.18 386.02L457.78 386.02L455.98 382.78Z" fill="#ff8a28"/><path d="M458.46 385.84L462.06 385.84L460.26 382.60Z" fill="#ff8a28"/><path d="M462.73 385.94L466.33 385.94L464.53 382.70Z" fill="#ff8a28"/><path d="M467.01 386.15L470.61 386.15L468.81 382.91Z" fill="#ff8a28"/><path d="M471.28 386.52L474.88 386.52L473.08 383.28Z" fill="#ff8a28"/><path d="M475.56 386.80L479.16 386.80L477.36 383.56Z" fill="#ff8a28"/><path d="M479.84 387.39L483.44 387.39L481.64 384.15Z" fill="#ff8a28"/><path d="M484.11 387.54L487.71 387.54L485.91 384.30Z" fill="#ff8a28"/><path d="M488.39 390.56L491.99 390.56L490.19 387.32Z" fill="#ff8a28"/><path d="M492.66 393.58L496.26 393.58L494.46 390.34Z" fill="#ff8a28"/><path d="M496.94 397.49L500.54 397.49L498.74 394.25Z" fill="#ff8a28"/><path d="M501.22 419.53L504.82 419.53L503.02 416.29Z" fill="#ff8a28"/><path d="M505.49 426.46L509.09 426.46L507.29 423.22Z" fill="#ff8a28"/><path d="M509.77 428.06L513.37 428.06L511.57 424.82Z" fill="#ff8a28"/><path d="M514.04 428.24L517.64 428.24L515.84 425.00Z" fill="#ff8a28"/><path d="M518.32 428.42L521.92 428.42L520.12 425.18Z" fill="#ff8a28"/><path d="M522.60 428.60L526.20 428.60L524.40 425.36Z" fill="#ff8a28"/><path d="M526.87 428.77L530.47 428.77L528.67 425.53Z" fill="#ff8a28"/><path d="M531.15 428.95L534.75 428.95L532.95 425.71Z" fill="#ff8a28"/><path d="M535.42 429.13L539.02 429.13L537.22 425.89Z" fill="#ff8a28"/><path d="M539.70 429.31L543.30 429.31L541.50 426.07Z" fill="#ff8a28"/></g>
<path d="M327.70 393.03L331.98 393.07L336.25 393.01L340.53 393.09L344.80 393.08L349.08 393.57L353.36 393.16L357.63 393.52L361.91 393.47L366.18 393.55L370.46 393.50L374.74 394.04L379.01 394.05L383.29 393.88L387.56 394.05L391.84 394.01L396.12 394.37L400.39 394.02L404.67 394.77L408.94 394.35L413.22 394.67L417.50 395.00L421.77 394.61L426.05 395.13L430.32 395.08L434.60 395.09L438.88 395.41L443.15 395.62L447.43 395.91L451.70 395.58L455.98 396.05L460.26 396.71L464.53 397.02L468.81 397.44L473.08 397.21L477.36 398.11L481.64 398.73L485.91 399.78L490.19 402.81L494.46 407.78L498.74 415.78L503.02 425.74L507.29 428.76L511.57 429.65L515.84 429.65L520.12 429.65L524.40 429.65L528.67 429.65L532.95 429.65L537.22 429.65L541.50 429.65" fill="none" stroke="#ff6e28" stroke-width="1.15" stroke-linejoin="round"/>
<g><rect x="326.30" y="391.63" width="2.80" height="2.80" fill="#ff6e28"/><rect x="330.58" y="391.67" width="2.80" height="2.80" fill="#ff6e28"/><rect x="334.85" y="391.61" width="2.80" height="2.80" fill="#ff6e28"/><rect x="339.13" y="391.69" width="2.80" height="2.80" fill="#ff6e28"/><rect x="343.40" y="391.68" width="2.80" height="2.80" fill="#ff6e28"/><rect x="347.68" y="392.17" width="2.80" height="2.80" fill="#ff6e28"/><rect x="351.96" y="391.76" width="2.80" height="2.80" fill="#ff6e28"/><rect x="356.23" y="392.12" width="2.80" height="2.80" fill="#ff6e28"/><rect x="360.51" y="392.07" width="2.80" height="2.80" fill="#ff6e28"/><rect x="364.78" y="392.15" width="2.80" height="2.80" fill="#ff6e28"/><rect x="369.06" y="392.10" width="2.80" height="2.80" fill="#ff6e28"/><rect x="373.34" y="392.64" width="2.80" height="2.80" fill="#ff6e28"/><rect x="377.61" y="392.65" width="2.80" height="2.80" fill="#ff6e28"/><rect x="381.89" y="392.48" width="2.80" height="2.80" fill="#ff6e28"/><rect x="386.16" y="392.65" width="2.80" height="2.80" fill="#ff6e28"/><rect x="390.44" y="392.61" width="2.80" height="2.80" fill="#ff6e28"/><rect x="394.72" y="392.97" width="2.80" height="2.80" fill="#ff6e28"/><rect x="398.99" y="392.62" width="2.80" height="2.80" fill="#ff6e28"/><rect x="403.27" y="393.37" width="2.80" height="2.80" fill="#ff6e28"/><rect x="407.54" y="392.95" width="2.80" height="2.80" fill="#ff6e28"/><rect x="411.82" y="393.27" width="2.80" height="2.80" fill="#ff6e28"/><rect x="416.10" y="393.60" width="2.80" height="2.80" fill="#ff6e28"/><rect x="420.37" y="393.21" width="2.80" height="2.80" fill="#ff6e28"/><rect x="424.65" y="393.73" width="2.80" height="2.80" fill="#ff6e28"/><rect x="428.92" y="393.68" width="2.80" height="2.80" fill="#ff6e28"/><rect x="433.20" y="393.69" width="2.80" height="2.80" fill="#ff6e28"/><rect x="437.48" y="394.01" width="2.80" height="2.80" fill="#ff6e28"/><rect x="441.75" y="394.22" width="2.80" height="2.80" fill="#ff6e28"/><rect x="446.03" y="394.51" width="2.80" height="2.80" fill="#ff6e28"/><rect x="450.30" y="394.18" width="2.80" height="2.80" fill="#ff6e28"/><rect x="454.58" y="394.65" width="2.80" height="2.80" fill="#ff6e28"/><rect x="458.86" y="395.31" width="2.80" height="2.80" fill="#ff6e28"/><rect x="463.13" y="395.62" width="2.80" height="2.80" fill="#ff6e28"/><rect x="467.41" y="396.04" width="2.80" height="2.80" fill="#ff6e28"/><rect x="471.68" y="395.81" width="2.80" height="2.80" fill="#ff6e28"/><rect x="475.96" y="396.71" width="2.80" height="2.80" fill="#ff6e28"/><rect x="480.24" y="397.33" width="2.80" height="2.80" fill="#ff6e28"/><rect x="484.51" y="398.38" width="2.80" height="2.80" fill="#ff6e28"/><rect x="488.79" y="401.41" width="2.80" height="2.80" fill="#ff6e28"/><rect x="493.06" y="406.38" width="2.80" height="2.80" fill="#ff6e28"/><rect x="497.34" y="414.38" width="2.80" height="2.80" fill="#ff6e28"/><rect x="501.62" y="424.34" width="2.80" height="2.80" fill="#ff6e28"/><rect x="505.89" y="427.36" width="2.80" height="2.80" fill="#ff6e28"/><rect x="510.17" y="428.25" width="2.80" height="2.80" fill="#ff6e28"/><rect x="514.44" y="428.25" width="2.80" height="2.80" fill="#ff6e28"/><rect x="518.72" y="428.25" width="2.80" height="2.80" fill="#ff6e28"/><rect x="523.00" y="428.25" width="2.80" height="2.80" fill="#ff6e28"/><rect x="527.27" y="428.25" width="2.80" height="2.80" fill="#ff6e28"/><rect x="531.55" y="428.25" width="2.80" height="2.80" fill="#ff6e28"/><rect x="535.82" y="428.25" width="2.80" height="2.80" fill="#ff6e28"/><rect x="540.10" y="428.25" width="2.80" height="2.80" fill="#ff6e28"/></g>
<path d="M327.70 394.10L331.98 394.28L336.25 393.88L340.53 393.96L344.80 394.05L349.08 394.21L353.36 394.21L357.63 394.90L361.91 394.51L366.18 394.85L370.46 394.57L374.74 394.84L379.01 394.81L383.29 394.89L387.56 394.93L391.84 394.81L396.12 394.77L400.39 395.28L404.67 395.02L408.94 395.02L413.22 395.44L417.50 395.70L421.77 395.49L426.05 395.37L430.32 395.60L434.60 395.91L438.88 395.73L443.15 396.22L447.43 396.04L451.70 396.78L455.98 396.76L460.26 397.10L464.53 397.65L468.81 397.63L473.08 398.63L477.36 398.84L481.64 400.13L485.91 401.03L490.19 404.40L494.46 410.63L498.74 419.51L503.02 429.29L507.29 431.78L511.57 432.31L515.84 432.31L520.12 432.31L524.40 432.31L528.67 432.31L532.95 432.31L537.22 432.31L541.50 432.31" fill="none" stroke="#ff6428" stroke-width="1.15" stroke-linejoin="round"/>
<g><rect x="326.20" y="392.60" width="3.00" height="3.00" fill="#ff6428"/><rect x="330.48" y="392.78" width="3.00" height="3.00" fill="#ff6428"/><rect x="334.75" y="392.38" width="3.00" height="3.00" fill="#ff6428"/><rect x="339.03" y="392.46" width="3.00" height="3.00" fill="#ff6428"/><rect x="343.30" y="392.55" width="3.00" height="3.00" fill="#ff6428"/><rect x="347.58" y="392.71" width="3.00" height="3.00" fill="#ff6428"/><rect x="351.86" y="392.71" width="3.00" height="3.00" fill="#ff6428"/><rect x="356.13" y="393.40" width="3.00" height="3.00" fill="#ff6428"/><rect x="360.41" y="393.01" width="3.00" height="3.00" fill="#ff6428"/><rect x="364.68" y="393.35" width="3.00" height="3.00" fill="#ff6428"/><rect x="368.96" y="393.07" width="3.00" height="3.00" fill="#ff6428"/><rect x="373.24" y="393.34" width="3.00" height="3.00" fill="#ff6428"/><rect x="377.51" y="393.31" width="3.00" height="3.00" fill="#ff6428"/><rect x="381.79" y="393.39" width="3.00" height="3.00" fill="#ff6428"/><rect x="386.06" y="393.43" width="3.00" height="3.00" fill="#ff6428"/><rect x="390.34" y="393.31" width="3.00" height="3.00" fill="#ff6428"/><rect x="394.62" y="393.27" width="3.00" height="3.00" fill="#ff6428"/><rect x="398.89" y="393.78" width="3.00" height="3.00" fill="#ff6428"/><rect x="403.17" y="393.52" width="3.00" height="3.00" fill="#ff6428"/><rect x="407.44" y="393.52" width="3.00" height="3.00" fill="#ff6428"/><rect x="411.72" y="393.94" width="3.00" height="3.00" fill="#ff6428"/><rect x="416.00" y="394.20" width="3.00" height="3.00" fill="#ff6428"/><rect x="420.27" y="393.99" width="3.00" height="3.00" fill="#ff6428"/><rect x="424.55" y="393.87" width="3.00" height="3.00" fill="#ff6428"/><rect x="428.82" y="394.10" width="3.00" height="3.00" fill="#ff6428"/><rect x="433.10" y="394.41" width="3.00" height="3.00" fill="#ff6428"/><rect x="437.38" y="394.23" width="3.00" height="3.00" fill="#ff6428"/><rect x="441.65" y="394.72" width="3.00" height="3.00" fill="#ff6428"/><rect x="445.93" y="394.54" width="3.00" height="3.00" fill="#ff6428"/><rect x="450.20" y="395.28" width="3.00" height="3.00" fill="#ff6428"/><rect x="454.48" y="395.26" width="3.00" height="3.00" fill="#ff6428"/><rect x="458.76" y="395.60" width="3.00" height="3.00" fill="#ff6428"/><rect x="463.03" y="396.15" width="3.00" height="3.00" fill="#ff6428"/><rect x="467.31" y="396.13" width="3.00" height="3.00" fill="#ff6428"/><rect x="471.58" y="397.13" width="3.00" height="3.00" fill="#ff6428"/><rect x="475.86" y="397.34" width="3.00" height="3.00" fill="#ff6428"/><rect x="480.14" y="398.63" width="3.00" height="3.00" fill="#ff6428"/><rect x="484.41" y="399.53" width="3.00" height="3.00" fill="#ff6428"/><rect x="488.69" y="402.90" width="3.00" height="3.00" fill="#ff6428"/><rect x="492.96" y="409.13" width="3.00" height="3.00" fill="#ff6428"/><rect x="497.24" y="418.01" width="3.00" height="3.00" fill="#ff6428"/><rect x="501.52" y="427.79" width="3.00" height="3.00" fill="#ff6428"/><rect x="505.79" y="430.28" width="3.00" height="3.00" fill="#ff6428"/><rect x="510.07" y="430.81" width="3.00" height="3.00" fill="#ff6428"/><rect x="514.34" y="430.81" width="3.00" height="3.00" fill="#ff6428"/><rect x="518.62" y="430.81" width="3.00" height="3.00" fill="#ff6428"/><rect x="522.90" y="430.81" width="3.00" height="3.00" fill="#ff6428"/><rect x="527.17" y="430.81" width="3.00" height="3.00" fill="#ff6428"/><rect x="531.45" y="430.81" width="3.00" height="3.00" fill="#ff6428"/><rect x="535.72" y="430.81" width="3.00" height="3.00" fill="#ff6428"/><rect x="540.00" y="430.81" width="3.00" height="3.00" fill="#ff6428"/></g>
<path d="M327.70 397.12L331.98 397.14L336.25 397.72L340.53 397.50L344.80 397.49L349.08 397.66L353.36 398.04L357.63 398.11L361.91 398.45L366.18 398.49L370.46 398.95L374.74 398.69L379.01 398.91L383.29 399.29L387.56 399.38L391.84 399.28L396.12 399.64L400.39 399.43L404.67 399.58L408.94 399.83L413.22 400.51L417.50 400.68L421.77 400.68L426.05 400.79L430.32 400.70L434.60 400.76L438.88 401.16L443.15 401.33L447.43 401.60L451.70 402.20L455.98 402.09L460.26 402.52L464.53 403.19L468.81 403.49L473.08 404.22L477.36 404.64L481.64 405.62L485.91 407.07L490.19 412.05L494.46 418.09L498.74 424.14L503.02 432.13L507.29 434.98L511.57 435.07L515.84 435.16L520.12 435.24L524.40 435.33L528.67 435.42L532.95 435.51L537.22 435.60L541.50 435.69" fill="none" stroke="#ff5028" stroke-width="1.15" stroke-linejoin="round"/>
<g><path d="M325.89 397.12L327.70 395.30L329.51 397.12L327.70 398.93Z" fill="#ff5028"/><path d="M330.16 397.14L331.98 395.33L333.79 397.14L331.98 398.96Z" fill="#ff5028"/><path d="M334.44 397.72L336.25 395.91L338.06 397.72L336.25 399.53Z" fill="#ff5028"/><path d="M338.72 397.50L340.53 395.69L342.34 397.50L340.53 399.31Z" fill="#ff5028"/><path d="M342.99 397.49L344.80 395.68L346.62 397.49L344.80 399.31Z" fill="#ff5028"/><path d="M347.27 397.66L349.08 395.84L350.89 397.66L349.08 399.47Z" fill="#ff5028"/><path d="M351.54 398.04L353.36 396.23L355.17 398.04L353.36 399.85Z" fill="#ff5028"/><path d="M355.82 398.11L357.63 396.30L359.44 398.11L357.63 399.92Z" fill="#ff5028"/><path d="M360.10 398.45L361.91 396.64L363.72 398.45L361.91 400.26Z" fill="#ff5028"/><path d="M364.37 398.49L366.18 396.68L368.00 398.49L366.18 400.31Z" fill="#ff5028"/><path d="M368.65 398.95L370.46 397.14L372.27 398.95L370.46 400.76Z" fill="#ff5028"/><path d="M372.92 398.69L374.74 396.88L376.55 398.69L374.74 400.51Z" fill="#ff5028"/><path d="M377.20 398.91L379.01 397.10L380.82 398.91L379.01 400.72Z" fill="#ff5028"/><path d="M381.48 399.29L383.29 397.48L385.10 399.29L383.29 401.10Z" fill="#ff5028"/><path d="M385.75 399.38L387.56 397.56L389.38 399.38L387.56 401.19Z" fill="#ff5028"/><path d="M390.03 399.28L391.84 397.46L393.65 399.28L391.84 401.09Z" fill="#ff5028"/><path d="M394.30 399.64L396.12 397.83L397.93 399.64L396.12 401.45Z" fill="#ff5028"/><path d="M398.58 399.43L400.39 397.62L402.20 399.43L400.39 401.24Z" fill="#ff5028"/><path d="M402.86 399.58L404.67 397.76L406.48 399.58L404.67 401.39Z" fill="#ff5028"/><path d="M407.13 399.83L408.94 398.01L410.76 399.83L408.94 401.64Z" fill="#ff5028"/><path d="M411.41 400.51L413.22 398.70L415.03 400.51L413.22 402.32Z" fill="#ff5028"/><path d="M415.68 400.68L417.50 398.87L419.31 400.68L417.50 402.49Z" fill="#ff5028"/><path d="M419.96 400.68L421.77 398.87L423.58 400.68L421.77 402.49Z" fill="#ff5028"/><path d="M424.24 400.79L426.05 398.97L427.86 400.79L426.05 402.60Z" fill="#ff5028"/><path d="M428.51 400.70L430.32 398.88L432.14 400.70L430.32 402.51Z" fill="#ff5028"/><path d="M432.79 400.76L434.60 398.95L436.41 400.76L434.60 402.58Z" fill="#ff5028"/><path d="M437.06 401.16L438.88 399.35L440.69 401.16L438.88 402.97Z" fill="#ff5028"/><path d="M441.34 401.33L443.15 399.52L444.96 401.33L443.15 403.14Z" fill="#ff5028"/><path d="M445.62 401.60L447.43 399.79L449.24 401.60L447.43 403.41Z" fill="#ff5028"/><path d="M449.89 402.20L451.70 400.39L453.52 402.20L451.70 404.02Z" fill="#ff5028"/><path d="M454.17 402.09L455.98 400.28L457.79 402.09L455.98 403.91Z" fill="#ff5028"/><path d="M458.44 402.52L460.26 400.71L462.07 402.52L460.26 404.33Z" fill="#ff5028"/><path d="M462.72 403.19L464.53 401.37L466.34 403.19L464.53 405.00Z" fill="#ff5028"/><path d="M467.00 403.49L468.81 401.67L470.62 403.49L468.81 405.30Z" fill="#ff5028"/><path d="M471.27 404.22L473.08 402.41L474.90 404.22L473.08 406.03Z" fill="#ff5028"/><path d="M475.55 404.64L477.36 402.82L479.17 404.64L477.36 406.45Z" fill="#ff5028"/><path d="M479.82 405.62L481.64 403.80L483.45 405.62L481.64 407.43Z" fill="#ff5028"/><path d="M484.10 407.07L485.91 405.26L487.72 407.07L485.91 408.88Z" fill="#ff5028"/><path d="M488.38 412.05L490.19 410.24L492.00 412.05L490.19 413.86Z" fill="#ff5028"/><path d="M492.65 418.09L494.46 416.28L496.28 418.09L494.46 419.90Z" fill="#ff5028"/><path d="M496.93 424.14L498.74 422.32L500.55 424.14L498.74 425.95Z" fill="#ff5028"/><path d="M501.20 432.13L503.02 430.32L504.83 432.13L503.02 433.95Z" fill="#ff5028"/><path d="M505.48 434.98L507.29 433.17L509.10 434.98L507.29 436.79Z" fill="#ff5028"/><path d="M509.76 435.07L511.57 433.25L513.38 435.07L511.57 436.88Z" fill="#ff5028"/><path d="M514.03 435.16L515.84 433.34L517.66 435.16L515.84 436.97Z" fill="#ff5028"/><path d="M518.31 435.24L520.12 433.43L521.93 435.24L520.12 437.06Z" fill="#ff5028"/><path d="M522.58 435.33L524.40 433.52L526.21 435.33L524.40 437.15Z" fill="#ff5028"/><path d="M526.86 435.42L528.67 433.61L530.48 435.42L528.67 437.23Z" fill="#ff5028"/><path d="M531.14 435.51L532.95 433.70L534.76 435.51L532.95 437.32Z" fill="#ff5028"/><path d="M535.41 435.60L537.22 433.79L539.04 435.60L537.22 437.41Z" fill="#ff5028"/><path d="M539.69 435.69L541.50 433.88L543.31 435.69L541.50 437.50Z" fill="#ff5028"/></g>
<g font-family="Liberation Sans, Arial, sans-serif" font-size="8.3" fill="#151515">
<path d="M346.6 416.60H367" stroke="#ffc800" stroke-width="1.25"/>
<circle cx="356.80" cy="416.60" r="1.55" fill="#ffc800"/>
<text x="372" y="419.60">1 <tspan font-family="Liberation Serif, Times New Roman, serif" font-size="9" stroke="none">μ</tspan>M</text>
<path d="M346.6 429.05H367" stroke="#ffb400" stroke-width="1.25"/>
<circle cx="356.80" cy="429.05" r="1.65" fill="#ffb400"/>
<text x="372" y="432.05">2 <tspan font-family="Liberation Serif, Times New Roman, serif" font-size="9" stroke="none">μ</tspan>M</text>
<path d="M346.6 441.50H367" stroke="#ff9a14" stroke-width="1.25"/>
<path d="M354.95 440.02L358.65 440.02L356.80 443.35Z" fill="#ff9a14"/>
<text x="372" y="444.50">4 <tspan font-family="Liberation Serif, Times New Roman, serif" font-size="9" stroke="none">μ</tspan>M</text>
<path d="M346.6 453.95H367" stroke="#ff8a28" stroke-width="1.25"/>
<path d="M355.00 455.39L358.60 455.39L356.80 452.15Z" fill="#ff8a28"/>
<text x="372" y="456.95">6 <tspan font-family="Liberation Serif, Times New Roman, serif" font-size="9" stroke="none">μ</tspan>M</text>
<path d="M346.6 466.40H367" stroke="#ff6e28" stroke-width="1.25"/>
<rect x="355.40" y="465.00" width="2.80" height="2.80" fill="#ff6e28"/>
<text x="372" y="469.40">8 <tspan font-family="Liberation Serif, Times New Roman, serif" font-size="9" stroke="none">μ</tspan>M</text>
<path d="M346.6 478.85H367" stroke="#ff6428" stroke-width="1.25"/>
<rect x="355.30" y="477.35" width="3.00" height="3.00" fill="#ff6428"/>
<text x="372" y="481.85">10 <tspan font-family="Liberation Serif, Times New Roman, serif" font-size="9" stroke="none">μ</tspan>M</text>
<path d="M346.6 491.30H367" stroke="#ff5028" stroke-width="1.25"/>
<path d="M354.99 491.30L356.80 489.49L358.61 491.30L356.80 493.11Z" fill="#ff5028"/>
<text x="372" y="494.30">12 <tspan font-family="Liberation Serif, Times New Roman, serif" font-size="9" stroke="none">μ</tspan>M</text>
</g>
<text x="428.9" y="553.1" text-anchor="middle" font-family="Liberation Serif, Times New Roman, serif" font-size="12.6" fill="#111">(<tspan font-weight="bold">d</tspan>)</text>
</g>
</svg>
</body></html>
